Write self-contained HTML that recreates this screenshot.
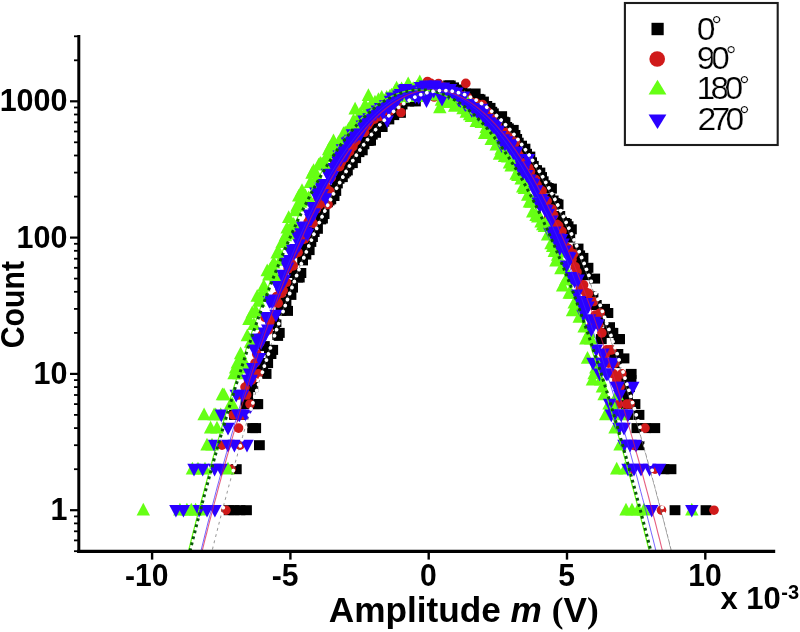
<!DOCTYPE html>
<html lang="en"><head><meta charset="utf-8"><title>Amplitude histogram</title>
<style>html,body{margin:0;padding:0;background:#fff}svg{display:block}</style></head>
<body>
<svg width="800" height="632" viewBox="0 0 800 632">
<rect width="800" height="632" fill="#fff"/>
<g fill="#000000">
<rect x="229.1" y="409.9" width="10.8" height="10"/>
<rect x="237.4" y="409.9" width="10.8" height="10"/>
<rect x="240.7" y="399.1" width="10.8" height="10"/>
<rect x="242.4" y="390.0" width="10.8" height="10"/>
<rect x="244.1" y="375.1" width="10.8" height="10"/>
<rect x="247.4" y="382.1" width="10.8" height="10"/>
<rect x="249.0" y="399.1" width="10.8" height="10"/>
<rect x="250.7" y="399.1" width="10.8" height="10"/>
<rect x="252.4" y="399.1" width="10.8" height="10"/>
<rect x="254.0" y="363.3" width="10.8" height="10"/>
<rect x="255.7" y="358.1" width="10.8" height="10"/>
<rect x="257.3" y="363.3" width="10.8" height="10"/>
<rect x="259.0" y="341.1" width="10.8" height="10"/>
<rect x="260.7" y="368.9" width="10.8" height="10"/>
<rect x="262.3" y="358.1" width="10.8" height="10"/>
<rect x="264.0" y="344.9" width="10.8" height="10"/>
<rect x="265.6" y="349.0" width="10.8" height="10"/>
<rect x="267.3" y="344.9" width="10.8" height="10"/>
<rect x="269.0" y="319.6" width="10.8" height="10"/>
<rect x="270.6" y="317.1" width="10.8" height="10"/>
<rect x="272.3" y="330.9" width="10.8" height="10"/>
<rect x="273.9" y="327.9" width="10.8" height="10"/>
<rect x="275.6" y="305.9" width="10.8" height="10"/>
<rect x="277.3" y="296.5" width="10.8" height="10"/>
<rect x="278.9" y="301.9" width="10.8" height="10"/>
<rect x="280.6" y="296.5" width="10.8" height="10"/>
<rect x="282.2" y="305.9" width="10.8" height="10"/>
<rect x="283.9" y="279.9" width="10.8" height="10"/>
<rect x="285.6" y="289.9" width="10.8" height="10"/>
<rect x="287.2" y="282.6" width="10.8" height="10"/>
<rect x="288.9" y="268.0" width="10.8" height="10"/>
<rect x="290.5" y="268.0" width="10.8" height="10"/>
<rect x="292.2" y="272.5" width="10.8" height="10"/>
<rect x="293.9" y="272.5" width="10.8" height="10"/>
<rect x="295.5" y="268.0" width="10.8" height="10"/>
<rect x="297.2" y="255.4" width="10.8" height="10"/>
<rect x="298.8" y="242.2" width="10.8" height="10"/>
<rect x="300.5" y="249.6" width="10.8" height="10"/>
<rect x="302.1" y="235.6" width="10.8" height="10"/>
<rect x="303.8" y="245.1" width="10.8" height="10"/>
<rect x="305.5" y="236.9" width="10.8" height="10"/>
<rect x="307.1" y="232.0" width="10.8" height="10"/>
<rect x="308.8" y="227.0" width="10.8" height="10"/>
<rect x="310.4" y="219.4" width="10.8" height="10"/>
<rect x="312.1" y="223.8" width="10.8" height="10"/>
<rect x="313.8" y="207.0" width="10.8" height="10"/>
<rect x="315.4" y="214.4" width="10.8" height="10"/>
<rect x="317.1" y="213.5" width="10.8" height="10"/>
<rect x="318.7" y="209.0" width="10.8" height="10"/>
<rect x="320.4" y="197.8" width="10.8" height="10"/>
<rect x="322.1" y="197.2" width="10.8" height="10"/>
<rect x="323.7" y="195.5" width="10.8" height="10"/>
<rect x="325.4" y="194.3" width="10.8" height="10"/>
<rect x="327.0" y="184.6" width="10.8" height="10"/>
<rect x="328.7" y="191.0" width="10.8" height="10"/>
<rect x="330.4" y="185.9" width="10.8" height="10"/>
<rect x="332.0" y="178.4" width="10.8" height="10"/>
<rect x="333.7" y="173.8" width="10.8" height="10"/>
<rect x="335.3" y="172.1" width="10.8" height="10"/>
<rect x="337.0" y="172.1" width="10.8" height="10"/>
<rect x="338.7" y="168.4" width="10.8" height="10"/>
<rect x="340.3" y="166.6" width="10.8" height="10"/>
<rect x="342.0" y="165.4" width="10.8" height="10"/>
<rect x="343.6" y="159.6" width="10.8" height="10"/>
<rect x="345.3" y="155.3" width="10.8" height="10"/>
<rect x="347.0" y="158.1" width="10.8" height="10"/>
<rect x="348.6" y="152.6" width="10.8" height="10"/>
<rect x="350.3" y="153.1" width="10.8" height="10"/>
<rect x="351.9" y="144.0" width="10.8" height="10"/>
<rect x="353.6" y="147.1" width="10.8" height="10"/>
<rect x="355.3" y="141.1" width="10.8" height="10"/>
<rect x="356.9" y="145.3" width="10.8" height="10"/>
<rect x="358.6" y="139.3" width="10.8" height="10"/>
<rect x="360.2" y="133.0" width="10.8" height="10"/>
<rect x="361.9" y="135.9" width="10.8" height="10"/>
<rect x="363.6" y="135.7" width="10.8" height="10"/>
<rect x="365.2" y="135.6" width="10.8" height="10"/>
<rect x="366.9" y="129.6" width="10.8" height="10"/>
<rect x="368.5" y="121.2" width="10.8" height="10"/>
<rect x="370.2" y="127.8" width="10.8" height="10"/>
<rect x="371.9" y="121.2" width="10.8" height="10"/>
<rect x="373.5" y="117.4" width="10.8" height="10"/>
<rect x="375.2" y="113.6" width="10.8" height="10"/>
<rect x="376.8" y="122.0" width="10.8" height="10"/>
<rect x="378.5" y="116.7" width="10.8" height="10"/>
<rect x="380.2" y="114.2" width="10.8" height="10"/>
<rect x="381.8" y="110.0" width="10.8" height="10"/>
<rect x="383.5" y="114.4" width="10.8" height="10"/>
<rect x="385.1" y="108.6" width="10.8" height="10"/>
<rect x="386.8" y="108.5" width="10.8" height="10"/>
<rect x="388.4" y="110.1" width="10.8" height="10"/>
<rect x="390.1" y="103.8" width="10.8" height="10"/>
<rect x="391.8" y="99.1" width="10.8" height="10"/>
<rect x="393.4" y="98.4" width="10.8" height="10"/>
<rect x="395.1" y="107.8" width="10.8" height="10"/>
<rect x="396.7" y="99.4" width="10.8" height="10"/>
<rect x="398.4" y="94.8" width="10.8" height="10"/>
<rect x="400.1" y="95.9" width="10.8" height="10"/>
<rect x="401.7" y="95.1" width="10.8" height="10"/>
<rect x="403.4" y="96.5" width="10.8" height="10"/>
<rect x="405.0" y="90.7" width="10.8" height="10"/>
<rect x="406.7" y="96.1" width="10.8" height="10"/>
<rect x="408.4" y="92.9" width="10.8" height="10"/>
<rect x="410.0" y="96.4" width="10.8" height="10"/>
<rect x="411.7" y="87.2" width="10.8" height="10"/>
<rect x="413.3" y="90.9" width="10.8" height="10"/>
<rect x="415.0" y="86.2" width="10.8" height="10"/>
<rect x="416.7" y="87.0" width="10.8" height="10"/>
<rect x="418.3" y="89.2" width="10.8" height="10"/>
<rect x="420.0" y="86.3" width="10.8" height="10"/>
<rect x="421.6" y="86.5" width="10.8" height="10"/>
<rect x="423.3" y="88.3" width="10.8" height="10"/>
<rect x="425.0" y="87.7" width="10.8" height="10"/>
<rect x="426.6" y="87.3" width="10.8" height="10"/>
<rect x="428.3" y="85.6" width="10.8" height="10"/>
<rect x="429.9" y="83.5" width="10.8" height="10"/>
<rect x="431.6" y="83.5" width="10.8" height="10"/>
<rect x="433.3" y="85.9" width="10.8" height="10"/>
<rect x="434.9" y="87.2" width="10.8" height="10"/>
<rect x="436.6" y="85.8" width="10.8" height="10"/>
<rect x="438.2" y="89.8" width="10.8" height="10"/>
<rect x="439.9" y="85.1" width="10.8" height="10"/>
<rect x="441.6" y="83.9" width="10.8" height="10"/>
<rect x="443.2" y="80.4" width="10.8" height="10"/>
<rect x="444.9" y="80.5" width="10.8" height="10"/>
<rect x="446.5" y="85.8" width="10.8" height="10"/>
<rect x="448.2" y="82.4" width="10.8" height="10"/>
<rect x="449.9" y="86.2" width="10.8" height="10"/>
<rect x="451.5" y="84.5" width="10.8" height="10"/>
<rect x="453.2" y="90.9" width="10.8" height="10"/>
<rect x="454.8" y="94.8" width="10.8" height="10"/>
<rect x="456.5" y="85.2" width="10.8" height="10"/>
<rect x="458.2" y="91.1" width="10.8" height="10"/>
<rect x="459.8" y="88.4" width="10.8" height="10"/>
<rect x="461.5" y="91.9" width="10.8" height="10"/>
<rect x="463.1" y="97.1" width="10.8" height="10"/>
<rect x="464.8" y="91.8" width="10.8" height="10"/>
<rect x="466.4" y="94.6" width="10.8" height="10"/>
<rect x="468.1" y="96.4" width="10.8" height="10"/>
<rect x="469.8" y="88.5" width="10.8" height="10"/>
<rect x="471.4" y="96.0" width="10.8" height="10"/>
<rect x="473.1" y="93.9" width="10.8" height="10"/>
<rect x="474.7" y="94.4" width="10.8" height="10"/>
<rect x="476.4" y="100.7" width="10.8" height="10"/>
<rect x="478.1" y="96.6" width="10.8" height="10"/>
<rect x="479.7" y="104.1" width="10.8" height="10"/>
<rect x="481.4" y="101.0" width="10.8" height="10"/>
<rect x="483.0" y="107.3" width="10.8" height="10"/>
<rect x="484.7" y="102.9" width="10.8" height="10"/>
<rect x="486.4" y="106.8" width="10.8" height="10"/>
<rect x="488.0" y="108.4" width="10.8" height="10"/>
<rect x="489.7" y="112.5" width="10.8" height="10"/>
<rect x="491.3" y="115.9" width="10.8" height="10"/>
<rect x="493.0" y="118.0" width="10.8" height="10"/>
<rect x="494.7" y="114.0" width="10.8" height="10"/>
<rect x="496.3" y="111.2" width="10.8" height="10"/>
<rect x="498.0" y="116.7" width="10.8" height="10"/>
<rect x="499.6" y="117.2" width="10.8" height="10"/>
<rect x="501.3" y="122.0" width="10.8" height="10"/>
<rect x="503.0" y="123.4" width="10.8" height="10"/>
<rect x="504.6" y="126.8" width="10.8" height="10"/>
<rect x="506.3" y="129.0" width="10.8" height="10"/>
<rect x="507.9" y="124.9" width="10.8" height="10"/>
<rect x="509.6" y="130.0" width="10.8" height="10"/>
<rect x="511.3" y="134.0" width="10.8" height="10"/>
<rect x="512.9" y="137.7" width="10.8" height="10"/>
<rect x="514.6" y="141.5" width="10.8" height="10"/>
<rect x="516.2" y="140.7" width="10.8" height="10"/>
<rect x="517.9" y="150.1" width="10.8" height="10"/>
<rect x="519.6" y="143.7" width="10.8" height="10"/>
<rect x="521.2" y="148.8" width="10.8" height="10"/>
<rect x="522.9" y="153.7" width="10.8" height="10"/>
<rect x="524.5" y="151.6" width="10.8" height="10"/>
<rect x="526.2" y="157.3" width="10.8" height="10"/>
<rect x="527.9" y="160.9" width="10.8" height="10"/>
<rect x="529.5" y="165.1" width="10.8" height="10"/>
<rect x="531.2" y="165.2" width="10.8" height="10"/>
<rect x="532.8" y="168.2" width="10.8" height="10"/>
<rect x="534.5" y="167.6" width="10.8" height="10"/>
<rect x="536.2" y="172.1" width="10.8" height="10"/>
<rect x="537.8" y="176.3" width="10.8" height="10"/>
<rect x="539.5" y="180.3" width="10.8" height="10"/>
<rect x="541.1" y="182.3" width="10.8" height="10"/>
<rect x="542.8" y="183.0" width="10.8" height="10"/>
<rect x="544.5" y="194.0" width="10.8" height="10"/>
<rect x="546.1" y="183.6" width="10.8" height="10"/>
<rect x="547.8" y="195.5" width="10.8" height="10"/>
<rect x="549.4" y="198.1" width="10.8" height="10"/>
<rect x="551.1" y="198.8" width="10.8" height="10"/>
<rect x="552.7" y="199.5" width="10.8" height="10"/>
<rect x="554.4" y="211.0" width="10.8" height="10"/>
<rect x="556.1" y="216.6" width="10.8" height="10"/>
<rect x="557.7" y="220.8" width="10.8" height="10"/>
<rect x="559.4" y="218.0" width="10.8" height="10"/>
<rect x="561.0" y="218.9" width="10.8" height="10"/>
<rect x="562.7" y="221.3" width="10.8" height="10"/>
<rect x="564.4" y="232.6" width="10.8" height="10"/>
<rect x="566.0" y="224.3" width="10.8" height="10"/>
<rect x="567.7" y="246.6" width="10.8" height="10"/>
<rect x="569.3" y="251.2" width="10.8" height="10"/>
<rect x="571.0" y="249.6" width="10.8" height="10"/>
<rect x="572.7" y="243.6" width="10.8" height="10"/>
<rect x="574.3" y="250.4" width="10.8" height="10"/>
<rect x="576.0" y="259.0" width="10.8" height="10"/>
<rect x="577.6" y="252.9" width="10.8" height="10"/>
<rect x="579.3" y="265.9" width="10.8" height="10"/>
<rect x="581.0" y="270.2" width="10.8" height="10"/>
<rect x="582.6" y="262.8" width="10.8" height="10"/>
<rect x="584.3" y="291.5" width="10.8" height="10"/>
<rect x="585.9" y="291.5" width="10.8" height="10"/>
<rect x="587.6" y="293.1" width="10.8" height="10"/>
<rect x="589.3" y="273.6" width="10.8" height="10"/>
<rect x="590.9" y="300.0" width="10.8" height="10"/>
<rect x="592.6" y="317.1" width="10.8" height="10"/>
<rect x="594.2" y="314.7" width="10.8" height="10"/>
<rect x="595.9" y="334.1" width="10.8" height="10"/>
<rect x="597.6" y="308.0" width="10.8" height="10"/>
<rect x="599.2" y="303.9" width="10.8" height="10"/>
<rect x="600.9" y="327.9" width="10.8" height="10"/>
<rect x="602.5" y="308.0" width="10.8" height="10"/>
<rect x="604.2" y="322.2" width="10.8" height="10"/>
<rect x="605.9" y="327.9" width="10.8" height="10"/>
<rect x="607.5" y="327.9" width="10.8" height="10"/>
<rect x="609.2" y="353.4" width="10.8" height="10"/>
<rect x="610.8" y="358.1" width="10.8" height="10"/>
<rect x="612.5" y="349.0" width="10.8" height="10"/>
<rect x="614.2" y="334.1" width="10.8" height="10"/>
<rect x="615.8" y="375.1" width="10.8" height="10"/>
<rect x="617.5" y="382.1" width="10.8" height="10"/>
<rect x="619.1" y="375.1" width="10.8" height="10"/>
<rect x="620.8" y="399.1" width="10.8" height="10"/>
<rect x="622.5" y="409.9" width="10.8" height="10"/>
<rect x="624.1" y="382.1" width="10.8" height="10"/>
<rect x="625.8" y="368.9" width="10.8" height="10"/>
<rect x="613.6" y="334.1" width="10.8" height="10"/>
<rect x="618.6" y="353.4" width="10.8" height="10"/>
<rect x="625.6" y="375.1" width="10.8" height="10"/>
<rect x="622.1" y="390.0" width="10.8" height="10"/>
<rect x="629.6" y="399.1" width="10.8" height="10"/>
<rect x="633.6" y="409.9" width="10.8" height="10"/>
<rect x="223.6" y="505.2" width="10.8" height="10"/>
<rect x="228.6" y="505.2" width="10.8" height="10"/>
<rect x="234.6" y="505.2" width="10.8" height="10"/>
<rect x="241.1" y="505.2" width="10.8" height="10"/>
<rect x="669.6" y="505.2" width="10.8" height="10"/>
<rect x="700.6" y="505.2" width="10.8" height="10"/>
<rect x="230.9" y="464.2" width="10.8" height="10"/>
<rect x="665.6" y="464.2" width="10.8" height="10"/>
<rect x="658.6" y="464.2" width="10.8" height="10"/>
<rect x="254.0" y="440.2" width="10.8" height="10"/>
<rect x="633.6" y="440.2" width="10.8" height="10"/>
<rect x="247.2" y="423.1" width="10.8" height="10"/>
<rect x="250.3" y="423.1" width="10.8" height="10"/>
<rect x="631.5" y="423.1" width="10.8" height="10"/>
<rect x="640.1" y="423.1" width="10.8" height="10"/>
<rect x="649.4" y="423.1" width="10.8" height="10"/>
</g>
<g fill="#d01a1a">
<circle cx="233.4" cy="414.9" r="4.8"/>
<circle cx="238.4" cy="395.0" r="4.8"/>
<circle cx="241.7" cy="414.9" r="4.8"/>
<circle cx="243.4" cy="414.9" r="4.8"/>
<circle cx="245.0" cy="387.1" r="4.8"/>
<circle cx="246.7" cy="395.0" r="4.8"/>
<circle cx="248.4" cy="380.1" r="4.8"/>
<circle cx="250.0" cy="404.1" r="4.8"/>
<circle cx="251.7" cy="380.1" r="4.8"/>
<circle cx="253.3" cy="373.9" r="4.8"/>
<circle cx="255.0" cy="363.1" r="4.8"/>
<circle cx="256.7" cy="354.0" r="4.8"/>
<circle cx="258.3" cy="373.9" r="4.8"/>
<circle cx="260.0" cy="342.5" r="4.8"/>
<circle cx="261.6" cy="335.9" r="4.8"/>
<circle cx="263.3" cy="332.9" r="4.8"/>
<circle cx="265.0" cy="317.3" r="4.8"/>
<circle cx="266.6" cy="317.3" r="4.8"/>
<circle cx="268.3" cy="330.0" r="4.8"/>
<circle cx="269.9" cy="322.1" r="4.8"/>
<circle cx="271.6" cy="317.3" r="4.8"/>
<circle cx="273.3" cy="299.7" r="4.8"/>
<circle cx="274.9" cy="299.7" r="4.8"/>
<circle cx="276.6" cy="296.5" r="4.8"/>
<circle cx="278.2" cy="303.2" r="4.8"/>
<circle cx="279.9" cy="289.0" r="4.8"/>
<circle cx="281.5" cy="293.3" r="4.8"/>
<circle cx="283.2" cy="290.4" r="4.8"/>
<circle cx="284.9" cy="282.3" r="4.8"/>
<circle cx="286.5" cy="282.3" r="4.8"/>
<circle cx="288.2" cy="268.8" r="4.8"/>
<circle cx="289.8" cy="262.2" r="4.8"/>
<circle cx="291.5" cy="264.0" r="4.8"/>
<circle cx="293.2" cy="265.9" r="4.8"/>
<circle cx="294.8" cy="253.8" r="4.8"/>
<circle cx="296.5" cy="235.9" r="4.8"/>
<circle cx="298.1" cy="252.3" r="4.8"/>
<circle cx="299.8" cy="239.4" r="4.8"/>
<circle cx="301.5" cy="239.4" r="4.8"/>
<circle cx="303.1" cy="239.4" r="4.8"/>
<circle cx="304.8" cy="238.8" r="4.8"/>
<circle cx="306.4" cy="234.2" r="4.8"/>
<circle cx="308.1" cy="222.1" r="4.8"/>
<circle cx="309.8" cy="219.0" r="4.8"/>
<circle cx="311.4" cy="217.7" r="4.8"/>
<circle cx="313.1" cy="223.5" r="4.8"/>
<circle cx="314.7" cy="208.0" r="4.8"/>
<circle cx="316.4" cy="209.0" r="4.8"/>
<circle cx="318.1" cy="198.4" r="4.8"/>
<circle cx="319.7" cy="204.5" r="4.8"/>
<circle cx="321.4" cy="198.1" r="4.8"/>
<circle cx="323.0" cy="201.2" r="4.8"/>
<circle cx="324.7" cy="184.3" r="4.8"/>
<circle cx="326.4" cy="188.3" r="4.8"/>
<circle cx="328.0" cy="204.5" r="4.8"/>
<circle cx="329.7" cy="191.2" r="4.8"/>
<circle cx="331.3" cy="177.5" r="4.8"/>
<circle cx="333.0" cy="172.4" r="4.8"/>
<circle cx="334.7" cy="163.3" r="4.8"/>
<circle cx="336.3" cy="166.0" r="4.8"/>
<circle cx="338.0" cy="163.3" r="4.8"/>
<circle cx="339.6" cy="166.7" r="4.8"/>
<circle cx="341.3" cy="162.3" r="4.8"/>
<circle cx="343.0" cy="157.8" r="4.8"/>
<circle cx="344.6" cy="158.0" r="4.8"/>
<circle cx="346.3" cy="155.4" r="4.8"/>
<circle cx="347.9" cy="151.7" r="4.8"/>
<circle cx="349.6" cy="151.7" r="4.8"/>
<circle cx="351.3" cy="147.5" r="4.8"/>
<circle cx="352.9" cy="146.5" r="4.8"/>
<circle cx="354.6" cy="142.0" r="4.8"/>
<circle cx="356.2" cy="140.7" r="4.8"/>
<circle cx="357.9" cy="133.3" r="4.8"/>
<circle cx="359.6" cy="130.6" r="4.8"/>
<circle cx="361.2" cy="132.5" r="4.8"/>
<circle cx="362.9" cy="126.6" r="4.8"/>
<circle cx="364.5" cy="132.3" r="4.8"/>
<circle cx="366.2" cy="126.3" r="4.8"/>
<circle cx="367.8" cy="125.4" r="4.8"/>
<circle cx="369.5" cy="122.7" r="4.8"/>
<circle cx="371.2" cy="119.8" r="4.8"/>
<circle cx="372.8" cy="119.0" r="4.8"/>
<circle cx="374.5" cy="119.0" r="4.8"/>
<circle cx="376.1" cy="115.6" r="4.8"/>
<circle cx="377.8" cy="114.2" r="4.8"/>
<circle cx="379.5" cy="116.5" r="4.8"/>
<circle cx="381.1" cy="114.1" r="4.8"/>
<circle cx="382.8" cy="111.5" r="4.8"/>
<circle cx="384.4" cy="106.6" r="4.8"/>
<circle cx="386.1" cy="106.4" r="4.8"/>
<circle cx="387.8" cy="105.2" r="4.8"/>
<circle cx="389.4" cy="111.4" r="4.8"/>
<circle cx="391.1" cy="106.1" r="4.8"/>
<circle cx="392.7" cy="98.3" r="4.8"/>
<circle cx="394.4" cy="103.3" r="4.8"/>
<circle cx="396.1" cy="98.9" r="4.8"/>
<circle cx="397.7" cy="102.8" r="4.8"/>
<circle cx="399.4" cy="97.1" r="4.8"/>
<circle cx="401.0" cy="98.0" r="4.8"/>
<circle cx="402.7" cy="96.5" r="4.8"/>
<circle cx="404.4" cy="96.8" r="4.8"/>
<circle cx="406.0" cy="98.1" r="4.8"/>
<circle cx="407.7" cy="98.2" r="4.8"/>
<circle cx="409.3" cy="94.1" r="4.8"/>
<circle cx="411.0" cy="88.9" r="4.8"/>
<circle cx="412.7" cy="91.6" r="4.8"/>
<circle cx="414.3" cy="89.4" r="4.8"/>
<circle cx="416.0" cy="92.2" r="4.8"/>
<circle cx="417.6" cy="94.7" r="4.8"/>
<circle cx="419.3" cy="95.2" r="4.8"/>
<circle cx="421.0" cy="90.6" r="4.8"/>
<circle cx="422.6" cy="92.9" r="4.8"/>
<circle cx="424.3" cy="92.4" r="4.8"/>
<circle cx="425.9" cy="89.0" r="4.8"/>
<circle cx="427.6" cy="87.4" r="4.8"/>
<circle cx="429.3" cy="89.6" r="4.8"/>
<circle cx="430.9" cy="83.4" r="4.8"/>
<circle cx="432.6" cy="92.6" r="4.8"/>
<circle cx="434.2" cy="97.0" r="4.8"/>
<circle cx="435.9" cy="88.9" r="4.8"/>
<circle cx="437.6" cy="89.3" r="4.8"/>
<circle cx="439.2" cy="93.4" r="4.8"/>
<circle cx="440.9" cy="91.0" r="4.8"/>
<circle cx="442.5" cy="93.0" r="4.8"/>
<circle cx="444.2" cy="87.2" r="4.8"/>
<circle cx="445.8" cy="92.1" r="4.8"/>
<circle cx="447.5" cy="94.9" r="4.8"/>
<circle cx="449.2" cy="92.6" r="4.8"/>
<circle cx="450.8" cy="96.7" r="4.8"/>
<circle cx="452.5" cy="91.3" r="4.8"/>
<circle cx="454.1" cy="95.7" r="4.8"/>
<circle cx="455.8" cy="95.0" r="4.8"/>
<circle cx="457.5" cy="100.0" r="4.8"/>
<circle cx="459.1" cy="96.0" r="4.8"/>
<circle cx="460.8" cy="95.2" r="4.8"/>
<circle cx="462.4" cy="97.0" r="4.8"/>
<circle cx="464.1" cy="99.8" r="4.8"/>
<circle cx="465.8" cy="83.4" r="4.8"/>
<circle cx="467.4" cy="97.1" r="4.8"/>
<circle cx="469.1" cy="102.0" r="4.8"/>
<circle cx="470.7" cy="101.8" r="4.8"/>
<circle cx="472.4" cy="103.2" r="4.8"/>
<circle cx="474.1" cy="106.8" r="4.8"/>
<circle cx="475.7" cy="102.9" r="4.8"/>
<circle cx="477.4" cy="106.9" r="4.8"/>
<circle cx="479.0" cy="108.4" r="4.8"/>
<circle cx="480.7" cy="111.8" r="4.8"/>
<circle cx="482.4" cy="104.5" r="4.8"/>
<circle cx="484.0" cy="115.0" r="4.8"/>
<circle cx="485.7" cy="111.6" r="4.8"/>
<circle cx="487.3" cy="111.6" r="4.8"/>
<circle cx="489.0" cy="116.8" r="4.8"/>
<circle cx="490.7" cy="118.6" r="4.8"/>
<circle cx="492.3" cy="118.5" r="4.8"/>
<circle cx="494.0" cy="127.0" r="4.8"/>
<circle cx="495.6" cy="133.1" r="4.8"/>
<circle cx="497.3" cy="124.8" r="4.8"/>
<circle cx="499.0" cy="132.4" r="4.8"/>
<circle cx="500.6" cy="130.9" r="4.8"/>
<circle cx="502.3" cy="138.0" r="4.8"/>
<circle cx="503.9" cy="137.1" r="4.8"/>
<circle cx="505.6" cy="132.6" r="4.8"/>
<circle cx="507.3" cy="141.0" r="4.8"/>
<circle cx="508.9" cy="143.0" r="4.8"/>
<circle cx="510.6" cy="137.7" r="4.8"/>
<circle cx="512.2" cy="150.0" r="4.8"/>
<circle cx="513.9" cy="145.0" r="4.8"/>
<circle cx="515.6" cy="142.1" r="4.8"/>
<circle cx="517.2" cy="151.5" r="4.8"/>
<circle cx="518.9" cy="155.2" r="4.8"/>
<circle cx="520.5" cy="166.6" r="4.8"/>
<circle cx="522.2" cy="163.6" r="4.8"/>
<circle cx="523.9" cy="162.8" r="4.8"/>
<circle cx="525.5" cy="167.1" r="4.8"/>
<circle cx="527.2" cy="166.6" r="4.8"/>
<circle cx="528.8" cy="168.0" r="4.8"/>
<circle cx="530.5" cy="171.6" r="4.8"/>
<circle cx="532.1" cy="185.8" r="4.8"/>
<circle cx="533.8" cy="179.2" r="4.8"/>
<circle cx="535.5" cy="179.5" r="4.8"/>
<circle cx="537.1" cy="184.8" r="4.8"/>
<circle cx="538.8" cy="192.0" r="4.8"/>
<circle cx="540.4" cy="194.0" r="4.8"/>
<circle cx="542.1" cy="190.9" r="4.8"/>
<circle cx="543.8" cy="201.5" r="4.8"/>
<circle cx="545.4" cy="200.2" r="4.8"/>
<circle cx="547.1" cy="201.2" r="4.8"/>
<circle cx="548.7" cy="217.7" r="4.8"/>
<circle cx="550.4" cy="213.6" r="4.8"/>
<circle cx="552.1" cy="209.0" r="4.8"/>
<circle cx="553.7" cy="215.2" r="4.8"/>
<circle cx="555.4" cy="227.3" r="4.8"/>
<circle cx="557.0" cy="224.4" r="4.8"/>
<circle cx="558.7" cy="225.8" r="4.8"/>
<circle cx="560.4" cy="233.6" r="4.8"/>
<circle cx="562.0" cy="231.4" r="4.8"/>
<circle cx="563.7" cy="246.5" r="4.8"/>
<circle cx="565.3" cy="246.5" r="4.8"/>
<circle cx="567.0" cy="247.9" r="4.8"/>
<circle cx="568.7" cy="248.6" r="4.8"/>
<circle cx="570.3" cy="255.4" r="4.8"/>
<circle cx="572.0" cy="259.6" r="4.8"/>
<circle cx="573.6" cy="253.8" r="4.8"/>
<circle cx="575.3" cy="266.9" r="4.8"/>
<circle cx="577.0" cy="271.9" r="4.8"/>
<circle cx="578.6" cy="282.3" r="4.8"/>
<circle cx="580.3" cy="289.0" r="4.8"/>
<circle cx="581.9" cy="286.2" r="4.8"/>
<circle cx="583.6" cy="284.9" r="4.8"/>
<circle cx="585.3" cy="291.8" r="4.8"/>
<circle cx="586.9" cy="303.2" r="4.8"/>
<circle cx="588.6" cy="293.3" r="4.8"/>
<circle cx="590.2" cy="301.5" r="4.8"/>
<circle cx="591.9" cy="324.6" r="4.8"/>
<circle cx="593.6" cy="301.5" r="4.8"/>
<circle cx="595.2" cy="315.1" r="4.8"/>
<circle cx="596.9" cy="322.1" r="4.8"/>
<circle cx="598.5" cy="324.6" r="4.8"/>
<circle cx="600.2" cy="313.0" r="4.8"/>
<circle cx="601.9" cy="332.9" r="4.8"/>
<circle cx="603.5" cy="354.0" r="4.8"/>
<circle cx="605.2" cy="354.0" r="4.8"/>
<circle cx="606.8" cy="349.9" r="4.8"/>
<circle cx="608.5" cy="363.1" r="4.8"/>
<circle cx="610.1" cy="349.9" r="4.8"/>
<circle cx="611.8" cy="349.9" r="4.8"/>
<circle cx="613.5" cy="373.9" r="4.8"/>
<circle cx="615.1" cy="363.1" r="4.8"/>
<circle cx="616.8" cy="380.1" r="4.8"/>
<circle cx="618.4" cy="404.1" r="4.8"/>
<circle cx="620.1" cy="387.1" r="4.8"/>
<circle cx="621.8" cy="373.9" r="4.8"/>
<circle cx="626.7" cy="404.1" r="4.8"/>
<circle cx="630.1" cy="404.1" r="4.8"/>
<circle cx="401.0" cy="112.5" r="4.8"/>
<circle cx="427.5" cy="81.5" r="4.8"/>
<circle cx="438.5" cy="83.5" r="4.8"/>
<circle cx="225.9" cy="510.2" r="4.8"/>
<circle cx="661.5" cy="510.2" r="4.8"/>
<circle cx="714.0" cy="510.2" r="4.8"/>
<circle cx="231.0" cy="469.2" r="4.8"/>
<circle cx="631.0" cy="469.2" r="4.8"/>
<circle cx="655.0" cy="469.2" r="4.8"/>
<circle cx="222.0" cy="445.2" r="4.8"/>
<circle cx="240.0" cy="445.2" r="4.8"/>
<circle cx="633.0" cy="445.2" r="4.8"/>
<circle cx="238.6" cy="428.1" r="4.8"/>
<circle cx="645.0" cy="428.1" r="4.8"/>
</g>
<g fill="#66ff14">
<path d="M197.4 420.3L210.8 420.3L204.1 407.6Z"/>
<path d="M207.4 420.3L220.8 420.3L214.1 407.6Z"/>
<path d="M209.0 420.3L222.4 420.3L215.7 407.6Z"/>
<path d="M214.0 420.3L227.4 420.3L220.7 407.6Z"/>
<path d="M215.7 400.3L229.1 400.3L222.4 387.6Z"/>
<path d="M217.3 400.3L230.7 400.3L224.0 387.6Z"/>
<path d="M224.0 409.5L237.4 409.5L230.7 396.8Z"/>
<path d="M225.6 409.5L239.0 409.5L232.3 396.8Z"/>
<path d="M227.3 379.2L240.7 379.2L234.0 366.5Z"/>
<path d="M228.9 373.6L242.3 373.6L235.6 360.9Z"/>
<path d="M230.6 368.4L244.0 368.4L237.3 355.7Z"/>
<path d="M232.3 379.2L245.7 379.2L239.0 366.5Z"/>
<path d="M233.9 359.3L247.3 359.3L240.6 346.6Z"/>
<path d="M235.6 363.7L249.0 363.7L242.3 351.0Z"/>
<path d="M237.2 368.4L250.6 368.4L243.9 355.7Z"/>
<path d="M238.9 373.6L252.3 373.6L245.6 360.9Z"/>
<path d="M240.6 341.2L254.0 341.2L247.3 328.5Z"/>
<path d="M242.2 325.0L255.6 325.0L248.9 312.3Z"/>
<path d="M243.9 347.8L257.3 347.8L250.6 335.1Z"/>
<path d="M245.5 318.3L258.9 318.3L252.2 305.6Z"/>
<path d="M247.2 329.9L260.6 329.9L253.9 317.2Z"/>
<path d="M248.8 316.2L262.2 316.2L255.5 303.5Z"/>
<path d="M250.5 301.8L263.9 301.8L257.2 289.1Z"/>
<path d="M252.2 306.8L265.6 306.8L258.9 294.1Z"/>
<path d="M253.8 301.8L267.2 301.8L260.5 289.1Z"/>
<path d="M255.5 301.8L268.9 301.8L262.2 289.1Z"/>
<path d="M257.1 291.5L270.5 291.5L263.8 278.8Z"/>
<path d="M258.8 300.2L272.2 300.2L265.5 287.5Z"/>
<path d="M260.5 276.2L273.9 276.2L267.2 263.5Z"/>
<path d="M262.1 280.5L275.5 280.5L268.8 267.8Z"/>
<path d="M263.8 274.2L277.2 274.2L270.5 261.5Z"/>
<path d="M265.4 272.2L278.8 272.2L272.1 259.5Z"/>
<path d="M267.1 268.4L280.5 268.4L273.8 255.7Z"/>
<path d="M268.8 281.6L282.2 281.6L275.5 268.9Z"/>
<path d="M270.4 258.4L283.8 258.4L277.1 245.7Z"/>
<path d="M272.1 257.6L285.5 257.6L278.8 244.9Z"/>
<path d="M273.7 265.8L287.1 265.8L280.4 253.1Z"/>
<path d="M275.4 247.9L288.8 247.9L282.1 235.2Z"/>
<path d="M277.1 246.0L290.5 246.0L283.8 233.3Z"/>
<path d="M278.7 241.2L292.1 241.2L285.4 228.5Z"/>
<path d="M280.4 233.6L293.8 233.6L287.1 220.9Z"/>
<path d="M282.0 223.0L295.4 223.0L288.7 210.3Z"/>
<path d="M283.7 239.5L297.1 239.5L290.4 226.8Z"/>
<path d="M285.4 230.7L298.8 230.7L292.1 218.0Z"/>
<path d="M287.0 229.7L300.4 229.7L293.7 217.0Z"/>
<path d="M288.7 216.2L302.1 216.2L295.4 203.5Z"/>
<path d="M290.3 211.5L303.7 211.5L297.0 198.8Z"/>
<path d="M292.0 201.6L305.4 201.6L298.7 188.9Z"/>
<path d="M293.7 207.8L307.1 207.8L300.4 195.1Z"/>
<path d="M295.3 196.0L308.7 196.0L302.0 183.3Z"/>
<path d="M297.0 205.9L310.4 205.9L303.7 193.2Z"/>
<path d="M298.6 201.0L312.0 201.0L305.3 188.3Z"/>
<path d="M300.3 206.2L313.7 206.2L307.0 193.5Z"/>
<path d="M302.0 203.1L315.4 203.1L308.7 190.4Z"/>
<path d="M303.6 188.0L317.0 188.0L310.3 175.3Z"/>
<path d="M305.3 178.7L318.7 178.7L312.0 166.0Z"/>
<path d="M306.9 176.0L320.3 176.0L313.6 163.3Z"/>
<path d="M308.6 177.7L322.0 177.7L315.3 165.0Z"/>
<path d="M310.3 182.2L323.7 182.2L317.0 169.5Z"/>
<path d="M311.9 170.5L325.3 170.5L318.6 157.8Z"/>
<path d="M313.6 168.8L327.0 168.8L320.3 156.1Z"/>
<path d="M315.2 169.5L328.6 169.5L321.9 156.8Z"/>
<path d="M316.9 167.8L330.3 167.8L323.6 155.1Z"/>
<path d="M318.6 169.6L332.0 169.6L325.3 156.9Z"/>
<path d="M320.2 161.9L333.6 161.9L326.9 149.2Z"/>
<path d="M321.9 155.2L335.3 155.2L328.6 142.5Z"/>
<path d="M323.5 152.6L336.9 152.6L330.2 139.9Z"/>
<path d="M325.2 158.3L338.6 158.3L331.9 145.6Z"/>
<path d="M326.8 146.3L340.2 146.3L333.5 133.6Z"/>
<path d="M328.5 155.9L341.9 155.9L335.2 143.2Z"/>
<path d="M330.2 152.3L343.6 152.3L336.9 139.6Z"/>
<path d="M331.8 147.9L345.2 147.9L338.5 135.2Z"/>
<path d="M333.5 149.0L346.9 149.0L340.2 136.3Z"/>
<path d="M335.1 145.3L348.5 145.3L341.8 132.6Z"/>
<path d="M336.8 139.0L350.2 139.0L343.5 126.3Z"/>
<path d="M338.5 138.1L351.9 138.1L345.2 125.4Z"/>
<path d="M340.1 142.7L353.5 142.7L346.8 130.0Z"/>
<path d="M341.8 134.7L355.2 134.7L348.5 122.0Z"/>
<path d="M343.4 134.2L356.8 134.2L350.1 121.5Z"/>
<path d="M345.1 134.0L358.5 134.0L351.8 121.3Z"/>
<path d="M346.8 125.9L360.2 125.9L353.5 113.2Z"/>
<path d="M348.4 114.4L361.8 114.4L355.1 101.7Z"/>
<path d="M350.1 133.1L363.5 133.1L356.8 120.4Z"/>
<path d="M351.7 123.5L365.1 123.5L358.4 110.8Z"/>
<path d="M353.4 119.4L366.8 119.4L360.1 106.7Z"/>
<path d="M355.1 123.2L368.5 123.2L361.8 110.5Z"/>
<path d="M356.7 122.6L370.1 122.6L363.4 109.9Z"/>
<path d="M358.4 110.5L371.8 110.5L365.1 97.8Z"/>
<path d="M360.0 115.3L373.4 115.3L366.7 102.6Z"/>
<path d="M361.7 101.0L375.1 101.0L368.4 88.3Z"/>
<path d="M363.4 112.5L376.8 112.5L370.1 99.8Z"/>
<path d="M365.0 109.1L378.4 109.1L371.7 96.4Z"/>
<path d="M366.7 114.6L380.1 114.6L373.4 101.9Z"/>
<path d="M368.3 107.5L381.7 107.5L375.0 94.8Z"/>
<path d="M370.0 112.7L383.4 112.7L376.7 100.0Z"/>
<path d="M371.7 104.9L385.1 104.9L378.4 92.2Z"/>
<path d="M373.3 111.2L386.7 111.2L380.0 98.5Z"/>
<path d="M375.0 102.6L388.4 102.6L381.7 89.9Z"/>
<path d="M376.6 108.1L390.0 108.1L383.3 95.4Z"/>
<path d="M378.3 106.2L391.7 106.2L385.0 93.5Z"/>
<path d="M380.0 102.7L393.4 102.7L386.7 90.0Z"/>
<path d="M381.6 104.1L395.0 104.1L388.3 91.4Z"/>
<path d="M383.3 101.5L396.7 101.5L390.0 88.8Z"/>
<path d="M384.9 100.5L398.3 100.5L391.6 87.8Z"/>
<path d="M386.6 107.6L400.0 107.6L393.3 94.9Z"/>
<path d="M388.3 96.7L401.7 96.7L395.0 84.0Z"/>
<path d="M389.9 93.5L403.3 93.5L396.6 80.8Z"/>
<path d="M391.6 96.1L405.0 96.1L398.3 83.4Z"/>
<path d="M393.2 99.1L406.6 99.1L399.9 86.4Z"/>
<path d="M394.9 94.1L408.3 94.1L401.6 81.4Z"/>
<path d="M396.6 102.9L410.0 102.9L403.3 90.2Z"/>
<path d="M398.2 97.9L411.6 97.9L404.9 85.2Z"/>
<path d="M399.9 97.6L413.3 97.6L406.6 84.9Z"/>
<path d="M401.5 89.1L414.9 89.1L408.2 76.4Z"/>
<path d="M403.2 96.5L416.6 96.5L409.9 83.8Z"/>
<path d="M404.9 102.0L418.3 102.0L411.6 89.3Z"/>
<path d="M406.5 94.0L419.9 94.0L413.2 81.3Z"/>
<path d="M408.2 97.5L421.6 97.5L414.9 84.8Z"/>
<path d="M409.8 92.8L423.2 92.8L416.5 80.1Z"/>
<path d="M411.5 90.9L424.9 90.9L418.2 78.2Z"/>
<path d="M413.1 87.3L426.5 87.3L419.8 74.6Z"/>
<path d="M414.8 102.1L428.2 102.1L421.5 89.4Z"/>
<path d="M416.5 97.6L429.9 97.6L423.2 84.9Z"/>
<path d="M418.1 93.2L431.5 93.2L424.8 80.5Z"/>
<path d="M419.8 93.0L433.2 93.0L426.5 80.3Z"/>
<path d="M421.4 98.6L434.8 98.6L428.1 85.9Z"/>
<path d="M423.1 95.8L436.5 95.8L429.8 83.1Z"/>
<path d="M424.8 95.6L438.2 95.6L431.5 82.9Z"/>
<path d="M426.4 94.8L439.8 94.8L433.1 82.1Z"/>
<path d="M428.1 100.1L441.5 100.1L434.8 87.4Z"/>
<path d="M429.7 95.6L443.1 95.6L436.4 82.9Z"/>
<path d="M431.4 100.6L444.8 100.6L438.1 87.9Z"/>
<path d="M433.1 113.3L446.5 113.3L439.8 100.6Z"/>
<path d="M434.7 105.7L448.1 105.7L441.4 93.0Z"/>
<path d="M436.4 99.3L449.8 99.3L443.1 86.6Z"/>
<path d="M438.0 108.1L451.4 108.1L444.7 95.4Z"/>
<path d="M439.7 95.4L453.1 95.4L446.4 82.7Z"/>
<path d="M441.4 100.2L454.8 100.2L448.1 87.5Z"/>
<path d="M443.0 107.6L456.4 107.6L449.7 94.9Z"/>
<path d="M444.7 106.3L458.1 106.3L451.4 93.6Z"/>
<path d="M446.3 101.1L459.7 101.1L453.0 88.4Z"/>
<path d="M448.0 111.8L461.4 111.8L454.7 99.1Z"/>
<path d="M449.7 110.0L463.1 110.0L456.4 97.3Z"/>
<path d="M451.3 110.0L464.7 110.0L458.0 97.3Z"/>
<path d="M453.0 102.5L466.4 102.5L459.7 89.8Z"/>
<path d="M454.6 108.9L468.0 108.9L461.3 96.2Z"/>
<path d="M456.3 114.2L469.7 114.2L463.0 101.5Z"/>
<path d="M458.0 102.9L471.4 102.9L464.7 90.2Z"/>
<path d="M459.6 117.7L473.0 117.7L466.3 105.0Z"/>
<path d="M461.3 114.9L474.7 114.9L468.0 102.2Z"/>
<path d="M462.9 120.2L476.3 120.2L469.6 107.5Z"/>
<path d="M464.6 122.1L478.0 122.1L471.3 109.4Z"/>
<path d="M466.3 116.1L479.7 116.1L473.0 103.4Z"/>
<path d="M467.9 122.0L481.3 122.0L474.6 109.3Z"/>
<path d="M469.6 126.9L483.0 126.9L476.3 114.2Z"/>
<path d="M471.2 125.5L484.6 125.5L477.9 112.8Z"/>
<path d="M472.9 126.8L486.3 126.8L479.6 114.1Z"/>
<path d="M474.6 127.9L488.0 127.9L481.3 115.2Z"/>
<path d="M476.2 126.6L489.6 126.6L482.9 113.9Z"/>
<path d="M477.9 139.1L491.3 139.1L484.6 126.4Z"/>
<path d="M479.5 133.0L492.9 133.0L486.2 120.3Z"/>
<path d="M481.2 137.9L494.6 137.9L487.9 125.2Z"/>
<path d="M482.9 131.9L496.3 131.9L489.6 119.2Z"/>
<path d="M484.5 145.0L497.9 145.0L491.2 132.3Z"/>
<path d="M486.2 138.9L499.6 138.9L492.9 126.2Z"/>
<path d="M487.8 140.5L501.2 140.5L494.5 127.8Z"/>
<path d="M489.5 150.5L502.9 150.5L496.2 137.8Z"/>
<path d="M491.2 149.6L504.6 149.6L497.9 136.9Z"/>
<path d="M492.8 159.8L506.2 159.8L499.5 147.1Z"/>
<path d="M494.5 154.8L507.9 154.8L501.2 142.1Z"/>
<path d="M496.1 155.5L509.5 155.5L502.8 142.8Z"/>
<path d="M497.8 162.1L511.2 162.1L504.5 149.4Z"/>
<path d="M499.4 153.8L512.8 153.8L506.1 141.1Z"/>
<path d="M501.1 162.4L514.5 162.4L507.8 149.7Z"/>
<path d="M502.8 168.4L516.2 168.4L509.5 155.7Z"/>
<path d="M504.4 171.5L517.8 171.5L511.1 158.8Z"/>
<path d="M506.1 170.7L519.5 170.7L512.8 158.0Z"/>
<path d="M507.7 170.7L521.1 170.7L514.4 158.0Z"/>
<path d="M509.4 179.7L522.8 179.7L516.1 167.0Z"/>
<path d="M511.1 181.1L524.5 181.1L517.8 168.4Z"/>
<path d="M512.7 173.5L526.1 173.5L519.4 160.8Z"/>
<path d="M514.4 184.6L527.8 184.6L521.1 171.9Z"/>
<path d="M516.0 192.4L529.4 192.4L522.7 179.7Z"/>
<path d="M517.7 193.9L531.1 193.9L524.4 181.2Z"/>
<path d="M519.4 190.4L532.8 190.4L526.1 177.7Z"/>
<path d="M521.0 200.7L534.4 200.7L527.7 188.0Z"/>
<path d="M522.7 207.5L536.1 207.5L529.4 194.8Z"/>
<path d="M524.3 207.8L537.7 207.8L531.0 195.1Z"/>
<path d="M526.0 217.4L539.4 217.4L532.7 204.7Z"/>
<path d="M527.7 204.3L541.1 204.3L534.4 191.6Z"/>
<path d="M529.3 220.9L542.7 220.9L536.0 208.2Z"/>
<path d="M531.0 222.6L544.4 222.6L537.7 209.9Z"/>
<path d="M532.6 221.8L546.0 221.8L539.3 209.1Z"/>
<path d="M534.3 227.4L547.7 227.4L541.0 214.7Z"/>
<path d="M536.0 230.2L549.4 230.2L542.7 217.5Z"/>
<path d="M537.6 232.1L551.0 232.1L544.3 219.4Z"/>
<path d="M539.3 228.3L552.7 228.3L546.0 215.6Z"/>
<path d="M540.9 240.6L554.3 240.6L547.6 227.9Z"/>
<path d="M542.6 238.4L556.0 238.4L549.3 225.7Z"/>
<path d="M544.3 249.2L557.7 249.2L551.0 236.5Z"/>
<path d="M545.9 251.9L559.3 251.9L552.6 239.2Z"/>
<path d="M547.6 256.9L561.0 256.9L554.3 244.2Z"/>
<path d="M549.2 266.6L562.6 266.6L555.9 253.9Z"/>
<path d="M550.9 260.8L564.3 260.8L557.6 248.1Z"/>
<path d="M552.6 257.6L566.0 257.6L559.3 244.9Z"/>
<path d="M554.2 274.2L567.6 274.2L560.9 261.5Z"/>
<path d="M555.9 291.5L569.3 291.5L562.6 278.8Z"/>
<path d="M557.5 272.2L570.9 272.2L564.2 259.5Z"/>
<path d="M559.2 285.2L572.6 285.2L565.9 272.5Z"/>
<path d="M560.9 285.2L574.3 285.2L567.6 272.5Z"/>
<path d="M562.5 298.7L575.9 298.7L569.2 286.0Z"/>
<path d="M564.2 298.7L577.6 298.7L570.9 286.0Z"/>
<path d="M565.8 316.2L579.2 316.2L572.5 303.5Z"/>
<path d="M567.5 308.6L580.9 308.6L574.2 295.9Z"/>
<path d="M569.2 312.3L582.6 312.3L575.9 299.6Z"/>
<path d="M570.8 314.2L584.2 314.2L577.5 301.5Z"/>
<path d="M572.5 322.7L585.9 322.7L579.2 310.0Z"/>
<path d="M574.1 314.2L587.5 314.2L580.8 301.5Z"/>
<path d="M575.8 320.4L589.2 320.4L582.5 307.7Z"/>
<path d="M577.4 332.6L590.8 332.6L584.1 319.9Z"/>
<path d="M579.1 344.4L592.5 344.4L585.8 331.7Z"/>
<path d="M580.8 363.7L594.2 363.7L587.5 351.0Z"/>
<path d="M582.4 338.2L595.8 338.2L589.1 325.5Z"/>
<path d="M584.1 344.4L597.5 344.4L590.8 331.7Z"/>
<path d="M585.7 385.5L599.1 385.5L592.4 372.8Z"/>
<path d="M587.4 379.2L600.8 379.2L594.1 366.5Z"/>
<path d="M589.1 373.6L602.5 373.6L595.8 360.9Z"/>
<path d="M590.7 368.4L604.1 368.4L597.4 355.7Z"/>
<path d="M592.4 373.6L605.8 373.6L599.1 360.9Z"/>
<path d="M594.0 385.5L607.4 385.5L600.7 372.8Z"/>
<path d="M595.7 392.4L609.1 392.4L602.4 379.7Z"/>
<path d="M597.4 400.3L610.8 400.3L604.1 387.6Z"/>
<path d="M599.0 420.3L612.4 420.3L605.7 407.6Z"/>
<path d="M602.3 409.5L615.7 409.5L609.0 396.8Z"/>
<path d="M605.7 409.5L619.1 409.5L612.4 396.8Z"/>
<path d="M610.6 400.3L624.0 400.3L617.3 387.6Z"/>
<path d="M615.6 420.3L629.0 420.3L622.3 407.6Z"/>
<path d="M136.6 515.5L150.0 515.5L143.3 502.8Z"/>
<path d="M173.2 515.5L186.6 515.5L179.9 502.8Z"/>
<path d="M180.2 515.5L193.6 515.5L186.9 502.8Z"/>
<path d="M184.6 515.5L198.0 515.5L191.3 502.8Z"/>
<path d="M188.9 515.5L202.3 515.5L195.6 502.8Z"/>
<path d="M195.1 515.5L208.5 515.5L201.8 502.8Z"/>
<path d="M619.3 515.5L632.7 515.5L626.0 502.8Z"/>
<path d="M625.3 515.5L638.7 515.5L632.0 502.8Z"/>
<path d="M631.3 515.5L644.7 515.5L638.0 502.8Z"/>
<path d="M637.3 515.5L650.7 515.5L644.0 502.8Z"/>
<path d="M685.1 515.5L698.5 515.5L691.8 502.8Z"/>
<path d="M185.7 474.5L199.1 474.5L192.4 461.8Z"/>
<path d="M191.3 474.5L204.7 474.5L198.0 461.8Z"/>
<path d="M198.3 474.5L211.7 474.5L205.0 461.8Z"/>
<path d="M221.3 474.5L234.7 474.5L228.0 461.8Z"/>
<path d="M610.0 474.5L623.4 474.5L616.7 461.8Z"/>
<path d="M618.3 474.5L631.7 474.5L625.0 461.8Z"/>
<path d="M205.3 450.5L218.7 450.5L212.0 437.8Z"/>
<path d="M200.3 450.5L213.7 450.5L207.0 437.8Z"/>
<path d="M613.3 450.5L626.7 450.5L620.0 437.8Z"/>
<path d="M203.9 433.5L217.3 433.5L210.6 420.8Z"/>
<path d="M210.3 433.5L223.7 433.5L217.0 420.8Z"/>
<path d="M608.3 433.5L621.7 433.5L615.0 420.8Z"/>
</g>
<g fill="#2a00ff">
<path d="M214.6 409.6L228.0 409.6L221.3 422.3Z"/>
<path d="M229.5 389.7L242.9 389.7L236.2 402.4Z"/>
<path d="M231.1 409.6L244.5 409.6L237.8 422.3Z"/>
<path d="M232.8 409.6L246.2 409.6L239.5 422.3Z"/>
<path d="M236.1 389.7L249.5 389.7L242.8 402.4Z"/>
<path d="M239.4 409.6L252.8 409.6L246.1 422.3Z"/>
<path d="M241.1 374.8L254.5 374.8L247.8 387.5Z"/>
<path d="M242.8 368.6L256.2 368.6L249.5 381.3Z"/>
<path d="M244.4 374.8L257.8 374.8L251.1 387.5Z"/>
<path d="M246.1 362.9L259.5 362.9L252.8 375.6Z"/>
<path d="M247.7 344.6L261.1 344.6L254.4 357.3Z"/>
<path d="M249.4 333.8L262.8 333.8L256.1 346.5Z"/>
<path d="M251.1 333.8L264.5 333.8L257.8 346.5Z"/>
<path d="M252.7 353.0L266.1 353.0L259.4 365.7Z"/>
<path d="M254.4 337.2L267.8 337.2L261.1 349.9Z"/>
<path d="M256.0 333.8L269.4 333.8L262.7 346.5Z"/>
<path d="M257.7 327.5L271.1 327.5L264.4 340.2Z"/>
<path d="M259.4 312.0L272.8 312.0L266.1 324.7Z"/>
<path d="M261.0 324.6L274.4 324.6L267.7 337.3Z"/>
<path d="M262.7 296.1L276.1 296.1L269.4 308.8Z"/>
<path d="M264.3 296.1L277.7 296.1L271.0 308.8Z"/>
<path d="M266.0 296.1L279.4 296.1L272.7 308.8Z"/>
<path d="M267.7 294.4L281.1 294.4L274.4 307.1Z"/>
<path d="M269.3 309.8L282.7 309.8L276.0 322.5Z"/>
<path d="M271.0 280.9L284.4 280.9L277.7 293.6Z"/>
<path d="M272.6 283.6L286.0 283.6L279.3 296.3Z"/>
<path d="M274.3 280.9L287.7 280.9L281.0 293.6Z"/>
<path d="M276.0 269.8L289.4 269.8L282.7 282.5Z"/>
<path d="M277.6 274.5L291.0 274.5L284.3 287.2Z"/>
<path d="M279.3 257.8L292.7 257.8L286.0 270.5Z"/>
<path d="M280.9 262.5L294.3 262.5L287.6 275.2Z"/>
<path d="M282.6 255.1L296.0 255.1L289.3 267.8Z"/>
<path d="M284.3 247.7L297.7 247.7L291.0 260.4Z"/>
<path d="M285.9 244.7L299.3 244.7L292.6 257.4Z"/>
<path d="M287.6 247.7L301.0 247.7L294.3 260.4Z"/>
<path d="M289.2 244.0L302.6 244.0L295.9 256.7Z"/>
<path d="M290.9 231.7L304.3 231.7L297.6 244.4Z"/>
<path d="M292.6 239.2L306.0 239.2L299.3 251.9Z"/>
<path d="M294.2 228.3L307.6 228.3L300.9 241.0Z"/>
<path d="M295.9 221.5L309.3 221.5L302.6 234.2Z"/>
<path d="M297.5 224.0L310.9 224.0L304.2 236.7Z"/>
<path d="M299.2 227.2L312.6 227.2L305.9 239.9Z"/>
<path d="M300.8 228.8L314.2 228.8L307.5 241.5Z"/>
<path d="M302.5 209.5L315.9 209.5L309.2 222.2Z"/>
<path d="M304.2 214.1L317.6 214.1L310.9 226.8Z"/>
<path d="M305.8 201.9L319.2 201.9L312.5 214.6Z"/>
<path d="M307.5 208.3L320.9 208.3L314.2 221.0Z"/>
<path d="M309.1 187.5L322.5 187.5L315.8 200.2Z"/>
<path d="M310.8 193.0L324.2 193.0L317.5 205.7Z"/>
<path d="M312.5 190.1L325.9 190.1L319.2 202.8Z"/>
<path d="M314.1 182.2L327.5 182.2L320.8 194.9Z"/>
<path d="M315.8 188.9L329.2 188.9L322.5 201.6Z"/>
<path d="M317.4 179.0L330.8 179.0L324.1 191.7Z"/>
<path d="M319.1 193.3L332.5 193.3L325.8 206.0Z"/>
<path d="M320.8 168.8L334.2 168.8L327.5 181.5Z"/>
<path d="M322.4 170.7L335.8 170.7L329.1 183.4Z"/>
<path d="M324.1 173.0L337.5 173.0L330.8 185.7Z"/>
<path d="M325.7 170.9L339.1 170.9L332.4 183.6Z"/>
<path d="M327.4 162.9L340.8 162.9L334.1 175.6Z"/>
<path d="M329.1 159.7L342.5 159.7L335.8 172.4Z"/>
<path d="M330.7 155.5L344.1 155.5L337.4 168.2Z"/>
<path d="M332.4 150.5L345.8 150.5L339.1 163.2Z"/>
<path d="M334.0 154.2L347.4 154.2L340.7 166.9Z"/>
<path d="M335.7 144.2L349.1 144.2L342.4 156.9Z"/>
<path d="M337.4 150.4L350.8 150.4L344.1 163.1Z"/>
<path d="M339.0 149.5L352.4 149.5L345.7 162.2Z"/>
<path d="M340.7 137.6L354.1 137.6L347.4 150.3Z"/>
<path d="M342.3 136.5L355.7 136.5L349.0 149.2Z"/>
<path d="M344.0 134.8L357.4 134.8L350.7 147.5Z"/>
<path d="M345.7 129.2L359.1 129.2L352.4 141.9Z"/>
<path d="M347.3 131.8L360.7 131.8L354.0 144.5Z"/>
<path d="M349.0 130.9L362.4 130.9L355.7 143.6Z"/>
<path d="M350.6 129.3L364.0 129.3L357.3 142.0Z"/>
<path d="M352.3 128.6L365.7 128.6L359.0 141.3Z"/>
<path d="M354.0 128.7L367.4 128.7L360.7 141.4Z"/>
<path d="M355.6 120.4L369.0 120.4L362.3 133.1Z"/>
<path d="M357.3 115.5L370.7 115.5L364.0 128.2Z"/>
<path d="M358.9 117.0L372.3 117.0L365.6 129.7Z"/>
<path d="M360.6 116.7L374.0 116.7L367.3 129.4Z"/>
<path d="M362.3 113.3L375.7 113.3L369.0 126.0Z"/>
<path d="M363.9 114.1L377.3 114.1L370.6 126.8Z"/>
<path d="M365.6 109.3L379.0 109.3L372.3 122.0Z"/>
<path d="M367.2 108.8L380.6 108.8L373.9 121.5Z"/>
<path d="M368.9 108.4L382.3 108.4L375.6 121.1Z"/>
<path d="M370.6 105.4L384.0 105.4L377.3 118.1Z"/>
<path d="M372.2 106.2L385.6 106.2L378.9 118.9Z"/>
<path d="M373.9 102.9L387.3 102.9L380.6 115.6Z"/>
<path d="M375.5 105.2L388.9 105.2L382.2 117.9Z"/>
<path d="M377.2 104.1L390.6 104.1L383.9 116.8Z"/>
<path d="M378.9 100.2L392.3 100.2L385.6 112.9Z"/>
<path d="M380.5 115.4L393.9 115.4L387.2 128.1Z"/>
<path d="M382.2 104.3L395.6 104.3L388.9 117.0Z"/>
<path d="M383.8 95.7L397.2 95.7L390.5 108.4Z"/>
<path d="M385.5 92.5L398.9 92.5L392.2 105.2Z"/>
<path d="M387.1 99.3L400.5 99.3L393.8 112.0Z"/>
<path d="M388.8 94.4L402.2 94.4L395.5 107.1Z"/>
<path d="M390.5 95.4L403.9 95.4L397.2 108.1Z"/>
<path d="M392.1 90.5L405.5 90.5L398.8 103.2Z"/>
<path d="M393.8 89.0L407.2 89.0L400.5 101.7Z"/>
<path d="M395.4 89.1L408.8 89.1L402.1 101.8Z"/>
<path d="M397.1 85.2L410.5 85.2L403.8 97.9Z"/>
<path d="M398.8 83.9L412.2 83.9L405.5 96.6Z"/>
<path d="M400.4 90.3L413.8 90.3L407.1 103.0Z"/>
<path d="M402.1 90.4L415.5 90.4L408.8 103.1Z"/>
<path d="M403.7 85.3L417.1 85.3L410.4 98.0Z"/>
<path d="M405.4 88.3L418.8 88.3L412.1 101.0Z"/>
<path d="M407.1 88.3L420.5 88.3L413.8 101.0Z"/>
<path d="M408.7 91.3L422.1 91.3L415.4 104.0Z"/>
<path d="M410.4 88.3L423.8 88.3L417.1 101.0Z"/>
<path d="M412.0 92.1L425.4 92.1L418.7 104.8Z"/>
<path d="M413.7 82.1L427.1 82.1L420.4 94.8Z"/>
<path d="M415.4 84.1L428.8 84.1L422.1 96.8Z"/>
<path d="M417.0 82.2L430.4 82.2L423.7 94.9Z"/>
<path d="M418.7 80.4L432.1 80.4L425.4 93.1Z"/>
<path d="M420.3 82.9L433.7 82.9L427.0 95.6Z"/>
<path d="M422.0 89.3L435.4 89.3L428.7 102.0Z"/>
<path d="M423.7 86.4L437.1 86.4L430.4 99.1Z"/>
<path d="M425.3 80.7L438.7 80.7L432.0 93.4Z"/>
<path d="M427.0 85.7L440.4 85.7L433.7 98.4Z"/>
<path d="M428.6 80.6L442.0 80.6L435.3 93.3Z"/>
<path d="M430.3 83.3L443.7 83.3L437.0 96.0Z"/>
<path d="M432.0 86.4L445.4 86.4L438.7 99.1Z"/>
<path d="M433.6 84.9L447.0 84.9L440.3 97.6Z"/>
<path d="M435.3 93.9L448.7 93.9L442.0 106.6Z"/>
<path d="M436.9 82.5L450.3 82.5L443.6 95.2Z"/>
<path d="M438.6 86.0L452.0 86.0L445.3 98.7Z"/>
<path d="M440.3 85.0L453.7 85.0L447.0 97.7Z"/>
<path d="M441.9 87.5L455.3 87.5L448.6 100.2Z"/>
<path d="M443.6 84.0L457.0 84.0L450.3 96.7Z"/>
<path d="M445.2 86.7L458.6 86.7L451.9 99.4Z"/>
<path d="M446.9 88.1L460.3 88.1L453.6 100.8Z"/>
<path d="M448.6 89.6L462.0 89.6L455.3 102.3Z"/>
<path d="M450.2 87.4L463.6 87.4L456.9 100.1Z"/>
<path d="M451.9 94.3L465.3 94.3L458.6 107.0Z"/>
<path d="M453.5 95.4L466.9 95.4L460.2 108.1Z"/>
<path d="M455.2 92.3L468.6 92.3L461.9 105.0Z"/>
<path d="M456.9 91.4L470.3 91.4L463.6 104.1Z"/>
<path d="M458.5 99.2L471.9 99.2L465.2 111.9Z"/>
<path d="M460.2 98.9L473.6 98.9L466.9 111.6Z"/>
<path d="M461.8 99.4L475.2 99.4L468.5 112.1Z"/>
<path d="M463.5 100.8L476.9 100.8L470.2 113.5Z"/>
<path d="M465.1 105.0L478.5 105.0L471.8 117.7Z"/>
<path d="M466.8 104.9L480.2 104.9L473.5 117.6Z"/>
<path d="M468.5 103.1L481.9 103.1L475.2 115.8Z"/>
<path d="M470.1 105.5L483.5 105.5L476.8 118.2Z"/>
<path d="M471.8 109.7L485.2 109.7L478.5 122.4Z"/>
<path d="M473.4 106.7L486.8 106.7L480.1 119.4Z"/>
<path d="M475.1 103.7L488.5 103.7L481.8 116.4Z"/>
<path d="M476.8 108.4L490.2 108.4L483.5 121.1Z"/>
<path d="M478.4 114.5L491.8 114.5L485.1 127.2Z"/>
<path d="M480.1 114.0L493.5 114.0L486.8 126.7Z"/>
<path d="M481.7 117.5L495.1 117.5L488.4 130.2Z"/>
<path d="M483.4 117.4L496.8 117.4L490.1 130.1Z"/>
<path d="M485.1 119.8L498.5 119.8L491.8 132.5Z"/>
<path d="M486.7 121.6L500.1 121.6L493.4 134.3Z"/>
<path d="M488.4 122.1L501.8 122.1L495.1 134.8Z"/>
<path d="M490.0 119.5L503.4 119.5L496.7 132.2Z"/>
<path d="M491.7 125.5L505.1 125.5L498.4 138.2Z"/>
<path d="M493.4 130.9L506.8 130.9L500.1 143.6Z"/>
<path d="M495.0 140.2L508.4 140.2L501.7 152.9Z"/>
<path d="M496.7 134.3L510.1 134.3L503.4 147.0Z"/>
<path d="M498.3 138.9L511.7 138.9L505.0 151.6Z"/>
<path d="M500.0 136.2L513.4 136.2L506.7 148.9Z"/>
<path d="M501.7 140.4L515.1 140.4L508.4 153.1Z"/>
<path d="M503.3 143.1L516.7 143.1L510.0 155.8Z"/>
<path d="M505.0 139.2L518.4 139.2L511.7 151.9Z"/>
<path d="M506.6 147.5L520.0 147.5L513.3 160.2Z"/>
<path d="M508.3 147.2L521.7 147.2L515.0 159.9Z"/>
<path d="M510.0 146.5L523.4 146.5L516.7 159.2Z"/>
<path d="M511.6 153.9L525.0 153.9L518.3 166.6Z"/>
<path d="M513.3 163.8L526.7 163.8L520.0 176.5Z"/>
<path d="M514.9 161.2L528.3 161.2L521.6 173.9Z"/>
<path d="M516.6 167.2L530.0 167.2L523.3 179.9Z"/>
<path d="M518.3 162.0L531.7 162.0L525.0 174.7Z"/>
<path d="M519.9 169.9L533.3 169.9L526.6 182.6Z"/>
<path d="M521.6 154.0L535.0 154.0L528.3 166.7Z"/>
<path d="M523.2 174.6L536.6 174.6L529.9 187.3Z"/>
<path d="M524.9 177.8L538.3 177.8L531.6 190.5Z"/>
<path d="M526.6 179.0L540.0 179.0L533.3 191.7Z"/>
<path d="M528.2 186.1L541.6 186.1L534.9 198.8Z"/>
<path d="M529.9 185.3L543.3 185.3L536.6 198.0Z"/>
<path d="M531.5 197.5L544.9 197.5L538.2 210.2Z"/>
<path d="M533.2 200.5L546.6 200.5L539.9 213.2Z"/>
<path d="M534.9 194.0L548.3 194.0L541.6 206.7Z"/>
<path d="M536.5 196.8L549.9 196.8L543.2 209.5Z"/>
<path d="M538.2 204.4L551.6 204.4L544.9 217.1Z"/>
<path d="M539.8 205.2L553.2 205.2L546.5 217.9Z"/>
<path d="M541.5 208.7L554.9 208.7L548.2 221.4Z"/>
<path d="M543.2 227.7L556.6 227.7L549.9 240.4Z"/>
<path d="M544.8 215.4L558.2 215.4L551.5 228.1Z"/>
<path d="M546.5 231.1L559.9 231.1L553.2 243.8Z"/>
<path d="M548.1 226.6L561.5 226.6L554.8 239.3Z"/>
<path d="M549.8 235.9L563.2 235.9L556.5 248.6Z"/>
<path d="M551.4 233.5L564.8 233.5L558.1 246.2Z"/>
<path d="M553.1 243.3L566.5 243.3L559.8 256.0Z"/>
<path d="M554.8 234.1L568.2 234.1L561.5 246.8Z"/>
<path d="M556.4 238.5L569.8 238.5L563.1 251.2Z"/>
<path d="M558.1 245.5L571.5 245.5L564.8 258.2Z"/>
<path d="M559.7 260.6L573.1 260.6L566.4 273.3Z"/>
<path d="M561.4 251.7L574.8 251.7L568.1 264.4Z"/>
<path d="M563.1 252.5L576.5 252.5L569.8 265.2Z"/>
<path d="M564.7 272.1L578.1 272.1L571.4 284.8Z"/>
<path d="M566.4 273.3L579.8 273.3L573.1 286.0Z"/>
<path d="M568.0 275.7L581.4 275.7L574.7 288.4Z"/>
<path d="M569.7 289.5L583.1 289.5L576.4 302.2Z"/>
<path d="M571.4 274.5L584.8 274.5L578.1 287.2Z"/>
<path d="M573.0 296.1L586.4 296.1L579.7 308.8Z"/>
<path d="M574.7 299.7L588.1 299.7L581.4 312.4Z"/>
<path d="M576.3 309.8L589.7 309.8L583.0 322.5Z"/>
<path d="M578.0 303.5L591.4 303.5L584.7 316.2Z"/>
<path d="M579.7 297.9L593.1 297.9L586.4 310.6Z"/>
<path d="M581.3 301.6L594.7 301.6L588.0 314.3Z"/>
<path d="M583.0 314.3L596.4 314.3L589.7 327.0Z"/>
<path d="M584.6 324.6L598.0 324.6L591.3 337.3Z"/>
<path d="M586.3 357.8L599.7 357.8L593.0 370.5Z"/>
<path d="M588.0 316.7L601.4 316.7L594.7 329.4Z"/>
<path d="M589.6 344.6L603.0 344.6L596.3 357.3Z"/>
<path d="M591.3 319.3L604.7 319.3L598.0 332.0Z"/>
<path d="M592.9 368.6L606.3 368.6L599.6 381.3Z"/>
<path d="M594.6 362.9L608.0 362.9L601.3 375.6Z"/>
<path d="M596.3 348.6L609.7 348.6L603.0 361.3Z"/>
<path d="M597.9 357.8L611.3 357.8L604.6 370.5Z"/>
<path d="M599.6 368.6L613.0 368.6L606.3 381.3Z"/>
<path d="M601.2 368.6L614.6 368.6L607.9 381.3Z"/>
<path d="M602.9 398.8L616.3 398.8L609.6 411.5Z"/>
<path d="M604.6 409.6L618.0 409.6L611.3 422.3Z"/>
<path d="M606.2 357.8L619.6 357.8L612.9 370.5Z"/>
<path d="M607.9 409.6L621.3 409.6L614.6 422.3Z"/>
<path d="M609.5 381.8L622.9 381.8L616.2 394.5Z"/>
<path d="M611.2 381.8L624.6 381.8L617.9 394.5Z"/>
<path d="M612.9 389.7L626.3 389.7L619.6 402.4Z"/>
<path d="M614.5 409.6L627.9 409.6L621.2 422.3Z"/>
<path d="M621.2 409.6L634.6 409.6L627.9 422.3Z"/>
<path d="M626.1 381.8L639.5 381.8L632.8 394.5Z"/>
<path d="M419.8 95.2L433.2 95.2L426.5 107.9Z"/>
<path d="M169.2 504.9L182.6 504.9L175.9 517.6Z"/>
<path d="M176.7 504.9L190.1 504.9L183.4 517.6Z"/>
<path d="M192.4 504.9L205.8 504.9L199.1 517.6Z"/>
<path d="M200.3 504.9L213.7 504.9L207.0 517.6Z"/>
<path d="M208.2 504.9L221.6 504.9L214.9 517.6Z"/>
<path d="M645.0 504.9L658.4 504.9L651.7 517.6Z"/>
<path d="M685.1 504.9L698.5 504.9L691.8 517.6Z"/>
<path d="M187.3 463.8L200.7 463.8L194.0 476.5Z"/>
<path d="M196.0 463.8L209.4 463.8L202.7 476.5Z"/>
<path d="M207.9 463.8L221.3 463.8L214.6 476.5Z"/>
<path d="M214.3 463.8L227.7 463.8L221.0 476.5Z"/>
<path d="M621.3 463.8L634.7 463.8L628.0 476.5Z"/>
<path d="M627.3 463.8L640.7 463.8L634.0 476.5Z"/>
<path d="M634.3 463.8L647.7 463.8L641.0 476.5Z"/>
<path d="M642.9 463.8L656.3 463.8L649.6 476.5Z"/>
<path d="M652.8 463.8L666.2 463.8L659.5 476.5Z"/>
<path d="M207.9 439.8L221.3 439.8L214.6 452.5Z"/>
<path d="M221.3 439.8L234.7 439.8L228.0 452.5Z"/>
<path d="M227.7 439.8L241.1 439.8L234.4 452.5Z"/>
<path d="M240.3 439.8L253.7 439.8L247.0 452.5Z"/>
<path d="M617.3 439.8L630.7 439.8L624.0 452.5Z"/>
<path d="M623.3 439.8L636.7 439.8L630.0 452.5Z"/>
<path d="M629.3 439.8L642.7 439.8L636.0 452.5Z"/>
<path d="M221.3 422.8L234.7 422.8L228.0 435.5Z"/>
<path d="M612.3 422.8L625.7 422.8L619.0 435.5Z"/>
<path d="M617.3 422.8L630.7 422.8L624.0 435.5Z"/>
</g>
<path d="M212.0 551.2L213.5 545.1L215.0 539.0L216.6 533.0L218.1 527.0L219.6 521.0L221.2 515.1L222.7 509.2L224.2 503.4L225.8 497.6L227.3 491.8L228.8 486.1L230.4 480.5L231.9 474.8L233.4 469.2L235.0 463.7L236.5 458.2L238.0 452.7L239.5 447.3L241.1 441.9L242.6 436.6L244.1 431.3L245.7 426.0L247.2 420.8L248.7 415.6L250.3 410.5L251.8 405.4L253.3 400.3L254.9 395.3L256.4 390.3L257.9 385.4L259.5 380.5L261.0 375.6L262.5 370.8L264.0 366.0L265.6 361.3L267.1 356.6L268.6 352.0L270.2 347.4L271.7 342.8L273.2 338.3L274.8 333.8L276.3 329.3L277.8 324.9L279.4 320.6L280.9 316.3L282.4 312.0L284.0 307.7L285.5 303.5L287.0 299.4L288.6 295.3L290.1 291.2L291.6 287.2L293.1 283.2L294.7 279.2L296.2 275.3L297.7 271.4L299.3 267.6L300.8 263.8L302.3 260.1L303.9 256.4L305.4 252.7L306.9 249.1L308.5 245.5L310.0 242.0L311.5 238.5L313.1 235.0L314.6 231.6L316.1 228.2L317.7 224.9L319.2 221.6L320.7 218.3L322.2 215.1L323.8 211.9L325.3 208.8L326.8 205.7L328.4 202.6L329.9 199.6L331.4 196.7L333.0 193.7L334.5 190.8L336.0 188.0L337.6 185.2L339.1 182.4L340.6 179.7L342.2 177.0L343.7 174.4L345.2 171.8L346.7 169.2L348.3 166.7L349.8 164.2L351.3 161.8L352.9 159.4L354.4 157.0L355.9 154.7L357.5 152.4L359.0 150.2L360.5 148.0L362.1 145.9L363.6 143.8L365.1 141.7L366.7 139.7L368.2 137.7L369.7 135.7L371.3 133.8L372.8 132.0L374.3 130.2L375.8 128.4L377.4 126.6L378.9 124.9L380.4 123.3L382.0 121.7L383.5 120.1L385.0 118.5L386.6 117.0L388.1 115.6L389.6 114.2L391.2 112.8L392.7 111.5L394.2 110.2L395.8 108.9L397.3 107.7L398.8 106.6L400.4 105.4L401.9 104.3L403.4 103.3L404.9 102.3L406.5 101.3L408.0 100.4L409.5 99.5L411.1 98.7L412.6 97.9L414.1 97.1L415.7 96.4L417.2 95.7L418.7 95.1L420.3 94.5L421.8 94.0L423.3 93.5L424.9 93.0L426.4 92.6L427.9 92.2L429.4 91.8L431.0 91.5L432.5 91.2L434.0 91.0L435.6 90.8L437.1 90.7L438.6 90.6L440.2 90.5L441.7 90.5L443.2 90.5L444.8 90.6L446.3 90.7L447.8 90.8L449.4 91.0L450.9 91.2L452.4 91.5L454.0 91.8L455.5 92.2L457.0 92.6L458.5 93.0L460.1 93.5L461.6 94.0L463.1 94.5L464.7 95.1L466.2 95.7L467.7 96.4L469.3 97.1L470.8 97.9L472.3 98.7L473.9 99.5L475.4 100.4L476.9 101.3L478.5 102.3L480.0 103.3L481.5 104.3L483.0 105.4L484.6 106.6L486.1 107.7L487.6 108.9L489.2 110.2L490.7 111.5L492.2 112.8L493.8 114.2L495.3 115.6L496.8 117.0L498.4 118.5L499.9 120.1L501.4 121.7L503.0 123.3L504.5 124.9L506.0 126.6L507.6 128.4L509.1 130.2L510.6 132.0L512.1 133.8L513.7 135.7L515.2 137.7L516.7 139.7L518.3 141.7L519.8 143.8L521.3 145.9L522.9 148.0L524.4 150.2L525.9 152.4L527.5 154.7L529.0 157.0L530.5 159.4L532.1 161.8L533.6 164.2L535.1 166.7L536.7 169.2L538.2 171.8L539.7 174.4L541.2 177.0L542.8 179.7L544.3 182.4L545.8 185.2L547.4 188.0L548.9 190.8L550.4 193.7L552.0 196.7L553.5 199.6L555.0 202.6L556.6 205.7L558.1 208.8L559.6 211.9L561.2 215.1L562.7 218.3L564.2 221.6L565.7 224.9L567.3 228.2L568.8 231.6L570.3 235.0L571.9 238.5L573.4 242.0L574.9 245.5L576.5 249.1L578.0 252.7L579.5 256.4L581.1 260.1L582.6 263.8L584.1 267.6L585.7 271.4L587.2 275.3L588.7 279.2L590.3 283.2L591.8 287.2L593.3 291.2L594.8 295.3L596.4 299.4L597.9 303.5L599.4 307.7L601.0 312.0L602.5 316.3L604.0 320.6L605.6 324.9L607.1 329.3L608.6 333.8L610.2 338.3L611.7 342.8L613.2 347.4L614.8 352.0L616.3 356.6L617.8 361.3L619.4 366.0L620.9 370.8L622.4 375.6L623.9 380.5L625.5 385.4L627.0 390.3L628.5 395.3L630.1 400.3L631.6 405.4L633.1 410.5L634.7 415.6L636.2 420.8L637.7 426.0L639.3 431.3L640.8 436.6L642.3 441.9L643.9 447.3L645.4 452.7L646.9 458.2L648.4 463.7L650.0 469.2L651.5 474.8L653.0 480.5L654.6 486.1L656.1 491.8L657.6 497.6L659.2 503.4L660.7 509.2L662.2 515.1L663.8 521.0L665.3 527.0L666.8 533.0L668.4 539.0L669.9 545.1L671.4 551.2" stroke="#666" stroke-opacity="0.7" stroke-width="1" fill="none"/>
<path d="M202.1 551.2L203.6 545.1L205.1 539.0L206.7 533.0L208.2 526.9L209.7 521.0L211.3 515.1L212.8 509.2L214.3 503.3L215.9 497.5L217.4 491.8L218.9 486.0L220.5 480.4L222.0 474.7L223.6 469.1L225.1 463.6L226.6 458.0L228.2 452.6L229.7 447.1L231.2 441.7L232.8 436.4L234.3 431.1L235.8 425.8L237.4 420.6L238.9 415.4L240.4 410.2L242.0 405.1L243.5 400.1L245.0 395.0L246.6 390.0L248.1 385.1L249.6 380.2L251.2 375.3L252.7 370.5L254.3 365.7L255.8 361.0L257.3 356.3L258.9 351.7L260.4 347.0L261.9 342.5L263.5 337.9L265.0 333.4L266.5 329.0L268.1 324.6L269.6 320.2L271.1 315.9L272.7 311.6L274.2 307.4L275.7 303.2L277.3 299.0L278.8 294.9L280.3 290.8L281.9 286.7L283.4 282.7L284.9 278.8L286.5 274.9L288.0 271.0L289.6 267.2L291.1 263.4L292.6 259.6L294.2 255.9L295.7 252.2L297.2 248.6L298.8 245.0L300.3 241.5L301.8 238.0L303.4 234.5L304.9 231.1L306.4 227.7L308.0 224.3L309.5 221.0L311.0 217.8L312.6 214.6L314.1 211.4L315.6 208.2L317.2 205.1L318.7 202.1L320.3 199.1L321.8 196.1L323.3 193.2L324.9 190.3L326.4 187.4L327.9 184.6L329.5 181.8L331.0 179.1L332.5 176.4L334.1 173.8L335.6 171.2L337.1 168.6L338.7 166.1L340.2 163.6L341.7 161.2L343.3 158.8L344.8 156.4L346.3 154.1L347.9 151.8L349.4 149.6L350.9 147.4L352.5 145.2L354.0 143.1L355.6 141.0L357.1 139.0L358.6 137.0L360.2 135.1L361.7 133.2L363.2 131.3L364.8 129.5L366.3 127.7L367.8 126.0L369.4 124.2L370.9 122.6L372.4 121.0L374.0 119.4L375.5 117.8L377.0 116.4L378.6 114.9L380.1 113.5L381.6 112.1L383.2 110.8L384.7 109.5L386.2 108.2L387.8 107.0L389.3 105.9L390.9 104.7L392.4 103.6L393.9 102.6L395.5 101.6L397.0 100.6L398.5 99.7L400.1 98.8L401.6 98.0L403.1 97.2L404.7 96.4L406.2 95.7L407.7 95.0L409.3 94.4L410.8 93.8L412.3 93.2L413.9 92.7L415.4 92.3L416.9 91.8L418.5 91.4L420.0 91.1L421.6 90.8L423.1 90.5L424.6 90.3L426.2 90.1L427.7 90.0L429.2 89.9L430.8 89.8L432.3 89.8L433.8 89.8L435.4 89.9L436.9 90.0L438.4 90.1L440.0 90.3L441.5 90.5L443.0 90.8L444.6 91.1L446.1 91.4L447.6 91.8L449.2 92.3L450.7 92.7L452.2 93.2L453.8 93.8L455.3 94.4L456.9 95.0L458.4 95.7L459.9 96.4L461.5 97.2L463.0 98.0L464.5 98.8L466.1 99.7L467.6 100.6L469.1 101.6L470.7 102.6L472.2 103.6L473.7 104.7L475.3 105.9L476.8 107.0L478.3 108.2L479.9 109.5L481.4 110.8L482.9 112.1L484.5 113.5L486.0 114.9L487.6 116.4L489.1 117.8L490.6 119.4L492.2 121.0L493.7 122.6L495.2 124.2L496.8 126.0L498.3 127.7L499.8 129.5L501.4 131.3L502.9 133.2L504.4 135.1L506.0 137.0L507.5 139.0L509.0 141.0L510.6 143.1L512.1 145.2L513.6 147.4L515.2 149.6L516.7 151.8L518.2 154.1L519.8 156.4L521.3 158.8L522.9 161.2L524.4 163.6L525.9 166.1L527.5 168.6L529.0 171.2L530.5 173.8L532.1 176.4L533.6 179.1L535.1 181.8L536.7 184.6L538.2 187.4L539.7 190.3L541.3 193.2L542.8 196.1L544.3 199.1L545.9 202.1L547.4 205.1L548.9 208.2L550.5 211.4L552.0 214.6L553.6 217.8L555.1 221.0L556.6 224.3L558.2 227.7L559.7 231.1L561.2 234.5L562.8 238.0L564.3 241.5L565.8 245.0L567.4 248.6L568.9 252.2L570.4 255.9L572.0 259.6L573.5 263.4L575.0 267.2L576.6 271.0L578.1 274.9L579.6 278.8L581.2 282.7L582.7 286.7L584.2 290.8L585.8 294.9L587.3 299.0L588.9 303.2L590.4 307.4L591.9 311.6L593.5 315.9L595.0 320.2L596.5 324.6L598.1 329.0L599.6 333.4L601.1 337.9L602.7 342.5L604.2 347.0L605.7 351.7L607.3 356.3L608.8 361.0L610.3 365.7L611.9 370.5L613.4 375.3L614.9 380.2L616.5 385.1L618.0 390.0L619.6 395.0L621.1 400.1L622.6 405.1L624.2 410.2L625.7 415.4L627.2 420.6L628.8 425.8L630.3 431.1L631.8 436.4L633.4 441.7L634.9 447.1L636.4 452.6L638.0 458.0L639.5 463.6L641.0 469.1L642.6 474.7L644.1 480.4L645.6 486.0L647.2 491.8L648.7 497.5L650.2 503.3L651.8 509.2L653.3 515.1L654.9 521.0L656.4 526.9L657.9 533.0L659.5 539.0L661.0 545.1L662.5 551.2" stroke="#dc1c4c" stroke-opacity="0.7" stroke-width="1.1" fill="none"/>
<path d="M188.4 551.2L190.0 545.1L191.5 539.0L193.0 533.0L194.6 526.9L196.1 521.0L197.6 515.1L199.2 509.2L200.7 503.3L202.3 497.5L203.8 491.8L205.3 486.0L206.9 480.4L208.4 474.7L209.9 469.1L211.5 463.6L213.0 458.0L214.5 452.6L216.1 447.1L217.6 441.7L219.2 436.4L220.7 431.1L222.2 425.8L223.8 420.6L225.3 415.4L226.8 410.2L228.4 405.1L229.9 400.1L231.4 395.0L233.0 390.0L234.5 385.1L236.1 380.2L237.6 375.3L239.1 370.5L240.7 365.7L242.2 361.0L243.7 356.3L245.3 351.7L246.8 347.0L248.3 342.5L249.9 337.9L251.4 333.4L253.0 329.0L254.5 324.6L256.0 320.2L257.6 315.9L259.1 311.6L260.6 307.4L262.2 303.2L263.7 299.0L265.2 294.9L266.8 290.8L268.3 286.7L269.9 282.7L271.4 278.8L272.9 274.9L274.5 271.0L276.0 267.2L277.5 263.4L279.1 259.6L280.6 255.9L282.1 252.2L283.7 248.6L285.2 245.0L286.8 241.5L288.3 238.0L289.8 234.5L291.4 231.1L292.9 227.7L294.4 224.3L296.0 221.0L297.5 217.8L299.0 214.6L300.6 211.4L302.1 208.2L303.7 205.1L305.2 202.1L306.7 199.1L308.3 196.1L309.8 193.2L311.3 190.3L312.9 187.4L314.4 184.6L315.9 181.8L317.5 179.1L319.0 176.4L320.6 173.8L322.1 171.2L323.6 168.6L325.2 166.1L326.7 163.6L328.2 161.2L329.8 158.8L331.3 156.4L332.8 154.1L334.4 151.8L335.9 149.6L337.5 147.4L339.0 145.2L340.5 143.1L342.1 141.0L343.6 139.0L345.1 137.0L346.7 135.1L348.2 133.2L349.7 131.3L351.3 129.5L352.8 127.7L354.4 126.0L355.9 124.2L357.4 122.6L359.0 121.0L360.5 119.4L362.0 117.8L363.6 116.4L365.1 114.9L366.6 113.5L368.2 112.1L369.7 110.8L371.3 109.5L372.8 108.2L374.3 107.0L375.9 105.9L377.4 104.7L378.9 103.6L380.5 102.6L382.0 101.6L383.5 100.6L385.1 99.7L386.6 98.8L388.2 98.0L389.7 97.2L391.2 96.4L392.8 95.7L394.3 95.0L395.8 94.4L397.4 93.8L398.9 93.2L400.4 92.7L402.0 92.3L403.5 91.8L405.1 91.4L406.6 91.1L408.1 90.8L409.7 90.5L411.2 90.3L412.7 90.1L414.3 90.0L415.8 89.9L417.3 89.8L418.9 89.8L420.4 89.8L422.0 89.9L423.5 90.0L425.0 90.1L426.6 90.3L428.1 90.5L429.6 90.8L431.2 91.1L432.7 91.4L434.2 91.8L435.8 92.3L437.3 92.7L438.9 93.2L440.4 93.8L441.9 94.4L443.5 95.0L445.0 95.7L446.5 96.4L448.1 97.2L449.6 98.0L451.1 98.8L452.7 99.7L454.2 100.6L455.8 101.6L457.3 102.6L458.8 103.6L460.4 104.7L461.9 105.9L463.4 107.0L465.0 108.2L466.5 109.5L468.0 110.8L469.6 112.1L471.1 113.5L472.7 114.9L474.2 116.4L475.7 117.8L477.3 119.4L478.8 121.0L480.3 122.6L481.9 124.2L483.4 126.0L484.9 127.7L486.5 129.5L488.0 131.3L489.6 133.2L491.1 135.1L492.6 137.0L494.2 139.0L495.7 141.0L497.2 143.1L498.8 145.2L500.3 147.4L501.8 149.6L503.4 151.8L504.9 154.1L506.5 156.4L508.0 158.8L509.5 161.2L511.1 163.6L512.6 166.1L514.1 168.6L515.7 171.2L517.2 173.8L518.7 176.4L520.3 179.1L521.8 181.8L523.4 184.6L524.9 187.4L526.4 190.3L528.0 193.2L529.5 196.1L531.0 199.1L532.6 202.1L534.1 205.1L535.6 208.2L537.2 211.4L538.7 214.6L540.3 217.8L541.8 221.0L543.3 224.3L544.9 227.7L546.4 231.1L547.9 234.5L549.5 238.0L551.0 241.5L552.5 245.0L554.1 248.6L555.6 252.2L557.2 255.9L558.7 259.6L560.2 263.4L561.8 267.2L563.3 271.0L564.8 274.9L566.4 278.8L567.9 282.7L569.4 286.7L571.0 290.8L572.5 294.9L574.1 299.0L575.6 303.2L577.1 307.4L578.7 311.6L580.2 315.9L581.7 320.2L583.3 324.6L584.8 329.0L586.3 333.4L587.9 337.9L589.4 342.5L590.9 347.0L592.5 351.7L594.0 356.3L595.6 361.0L597.1 365.7L598.6 370.5L600.2 375.3L601.7 380.2L603.2 385.1L604.8 390.0L606.3 395.0L607.8 400.1L609.4 405.1L610.9 410.2L612.5 415.4L614.0 420.6L615.5 425.8L617.1 431.1L618.6 436.4L620.1 441.7L621.7 447.1L623.2 452.6L624.7 458.0L626.3 463.6L627.8 469.1L629.4 474.7L630.9 480.4L632.4 486.0L634.0 491.8L635.5 497.5L637.0 503.3L638.6 509.2L640.1 515.1L641.6 521.0L643.2 526.9L644.7 533.0L646.3 539.0L647.8 545.1L649.3 551.2" stroke="#66ff14" stroke-width="1.2" fill="none"/>
<path d="M200.9 551.2L202.4 545.1L203.9 539.0L205.4 532.9L206.9 526.9L208.4 520.9L210.0 515.0L211.5 509.1L213.0 503.2L214.5 497.4L216.0 491.7L217.5 485.9L219.1 480.2L220.6 474.6L222.1 469.0L223.6 463.4L225.1 457.9L226.6 452.4L228.2 447.0L229.7 441.6L231.2 436.2L232.7 430.9L234.2 425.6L235.7 420.4L237.3 415.2L238.8 410.0L240.3 404.9L241.8 399.8L243.3 394.8L244.9 389.8L246.4 384.8L247.9 379.9L249.4 375.1L250.9 370.2L252.4 365.5L254.0 360.7L255.5 356.0L257.0 351.3L258.5 346.7L260.0 342.1L261.5 337.6L263.1 333.1L264.6 328.6L266.1 324.2L267.6 319.9L269.1 315.5L270.6 311.2L272.2 307.0L273.7 302.8L275.2 298.6L276.7 294.5L278.2 290.4L279.7 286.3L281.3 282.3L282.8 278.4L284.3 274.4L285.8 270.6L287.3 266.7L288.8 262.9L290.4 259.2L291.9 255.4L293.4 251.8L294.9 248.1L296.4 244.5L297.9 241.0L299.5 237.5L301.0 234.0L302.5 230.6L304.0 227.2L305.5 223.8L307.1 220.5L308.6 217.2L310.1 214.0L311.6 210.8L313.1 207.7L314.6 204.6L316.2 201.5L317.7 198.5L319.2 195.5L320.7 192.6L322.2 189.7L323.7 186.8L325.3 184.0L326.8 181.3L328.3 178.5L329.8 175.8L331.3 173.2L332.8 170.6L334.4 168.0L335.9 165.5L337.4 163.0L338.9 160.6L340.4 158.1L341.9 155.8L343.5 153.5L345.0 151.2L346.5 148.9L348.0 146.7L349.5 144.6L351.0 142.5L352.6 140.4L354.1 138.4L355.6 136.4L357.1 134.4L358.6 132.5L360.2 130.6L361.7 128.8L363.2 127.0L364.7 125.3L366.2 123.6L367.7 121.9L369.3 120.3L370.8 118.7L372.3 117.2L373.8 115.7L375.3 114.2L376.8 112.8L378.4 111.4L379.9 110.1L381.4 108.8L382.9 107.5L384.4 106.3L385.9 105.2L387.5 104.0L389.0 102.9L390.5 101.9L392.0 100.9L393.5 99.9L395.0 99.0L396.6 98.1L398.1 97.3L399.6 96.5L401.1 95.7L402.6 95.0L404.1 94.3L405.7 93.7L407.2 93.1L408.7 92.5L410.2 92.0L411.7 91.5L413.3 91.1L414.8 90.7L416.3 90.4L417.8 90.1L419.3 89.8L420.8 89.6L422.4 89.4L423.9 89.2L425.4 89.1L426.9 89.1L428.4 89.0L429.9 89.1L431.5 89.1L433.0 89.2L434.5 89.4L436.0 89.6L437.5 89.8L439.0 90.1L440.6 90.4L442.1 90.7L443.6 91.1L445.1 91.5L446.6 92.0L448.1 92.5L449.7 93.1L451.2 93.7L452.7 94.3L454.2 95.0L455.7 95.7L457.2 96.5L458.8 97.3L460.3 98.1L461.8 99.0L463.3 99.9L464.8 100.9L466.4 101.9L467.9 102.9L469.4 104.0L470.9 105.2L472.4 106.3L473.9 107.5L475.5 108.8L477.0 110.1L478.5 111.4L480.0 112.8L481.5 114.2L483.0 115.7L484.6 117.2L486.1 118.7L487.6 120.3L489.1 121.9L490.6 123.6L492.1 125.3L493.7 127.0L495.2 128.8L496.7 130.6L498.2 132.5L499.7 134.4L501.2 136.4L502.8 138.4L504.3 140.4L505.8 142.5L507.3 144.6L508.8 146.7L510.3 148.9L511.9 151.2L513.4 153.5L514.9 155.8L516.4 158.1L517.9 160.6L519.5 163.0L521.0 165.5L522.5 168.0L524.0 170.6L525.5 173.2L527.0 175.8L528.6 178.5L530.1 181.3L531.6 184.0L533.1 186.8L534.6 189.7L536.1 192.6L537.7 195.5L539.2 198.5L540.7 201.5L542.2 204.6L543.7 207.7L545.2 210.8L546.8 214.0L548.3 217.2L549.8 220.5L551.3 223.8L552.8 227.2L554.3 230.6L555.9 234.0L557.4 237.5L558.9 241.0L560.4 244.5L561.9 248.1L563.4 251.8L565.0 255.4L566.5 259.2L568.0 262.9L569.5 266.7L571.0 270.6L572.6 274.4L574.1 278.4L575.6 282.3L577.1 286.3L578.6 290.4L580.1 294.5L581.7 298.6L583.2 302.8L584.7 307.0L586.2 311.2L587.7 315.5L589.2 319.9L590.8 324.2L592.3 328.6L593.8 333.1L595.3 337.6L596.8 342.1L598.3 346.7L599.9 351.3L601.4 356.0L602.9 360.7L604.4 365.5L605.9 370.2L607.4 375.1L609.0 379.9L610.5 384.8L612.0 389.8L613.5 394.8L615.0 399.8L616.5 404.9L618.1 410.0L619.6 415.2L621.1 420.4L622.6 425.6L624.1 430.9L625.7 436.2L627.2 441.6L628.7 447.0L630.2 452.4L631.7 457.9L633.2 463.4L634.8 469.0L636.3 474.6L637.8 480.2L639.3 485.9L640.8 491.7L642.3 497.4L643.9 503.2L645.4 509.1L646.9 515.0L648.4 520.9L649.9 526.9L651.4 532.9L653.0 539.0L654.5 545.1L656.0 551.2" stroke="#3a22ff" stroke-opacity="0.7" stroke-width="1" fill="none"/>
<path d="M190.0 551.2L191.5 545.1L193.0 539.0L194.6 533.0L196.1 526.9L197.6 521.0L199.2 515.1L200.7 509.2L202.2 503.3L203.8 497.5L205.3 491.8L206.9 486.0L208.4 480.4L209.9 474.7L211.5 469.1L213.0 463.6L214.5 458.0L216.1 452.6L217.6 447.1L219.1 441.7L220.7 436.4L222.2 431.1L223.8 425.8L225.3 420.6L226.8 415.4L228.4 410.2L229.9 405.1L231.4 400.1L233.0 395.0L234.5 390.0L236.0 385.1L237.6 380.2L239.1 375.3L240.7 370.5L242.2 365.7L243.7 361.0L245.3 356.3L246.8 351.7L248.3 347.0L249.9 342.5L251.4 337.9L252.9 333.4L254.5 329.0L256.0 324.6L257.6 320.2L259.1 315.9L260.6 311.6L262.2 307.4L263.7 303.2L265.2 299.0L266.8 294.9L268.3 290.8L269.8 286.7L271.4 282.7L272.9 278.8L274.5 274.9L276.0 271.0L277.5 267.2L279.1 263.4L280.6 259.6L282.1 255.9L283.7 252.2L285.2 248.6L286.7 245.0L288.3 241.5L289.8 238.0L291.4 234.5L292.9 231.1L294.4 227.7L296.0 224.3L297.5 221.0L299.0 217.8L300.6 214.6L302.1 211.4L303.6 208.2L305.2 205.1L306.7 202.1L308.2 199.1L309.8 196.1L311.3 193.2L312.9 190.3L314.4 187.4L315.9 184.6L317.5 181.8L319.0 179.1L320.5 176.4L322.1 173.8L323.6 171.2L325.1 168.6L326.7 166.1L328.2 163.6L329.8 161.2L331.3 158.8L332.8 156.4L334.4 154.1L335.9 151.8L337.4 149.6L339.0 147.4L340.5 145.2L342.0 143.1L343.6 141.0L345.1 139.0L346.7 137.0L348.2 135.1L349.7 133.2L351.3 131.3L352.8 129.5L354.3 127.7L355.9 126.0L357.4 124.2L358.9 122.6L360.5 121.0L362.0 119.4L363.6 117.8L365.1 116.4L366.6 114.9L368.2 113.5L369.7 112.1L371.2 110.8L372.8 109.5L374.3 108.2L375.8 107.0L377.4 105.9L378.9 104.7L380.5 103.6L382.0 102.6L383.5 101.6L385.1 100.6L386.6 99.7L388.1 98.8L389.7 98.0L391.2 97.2L392.7 96.4L394.3 95.7L395.8 95.0L397.4 94.4L398.9 93.8L400.4 93.2L402.0 92.7L403.5 92.3L405.0 91.8L406.6 91.4L408.1 91.1L409.6 90.8L411.2 90.5L412.7 90.3L414.3 90.1L415.8 90.0L417.3 89.9L418.9 89.8L420.4 89.8L421.9 89.8L423.5 89.9L425.0 90.0L426.5 90.1L428.1 90.3L429.6 90.5L431.2 90.8L432.7 91.1L434.2 91.4L435.8 91.8L437.3 92.3L438.8 92.7L440.4 93.2L441.9 93.8L443.4 94.4L445.0 95.0L446.5 95.7L448.1 96.4L449.6 97.2L451.1 98.0L452.7 98.8L454.2 99.7L455.7 100.6L457.3 101.6L458.8 102.6L460.3 103.6L461.9 104.7L463.4 105.9L465.0 107.0L466.5 108.2L468.0 109.5L469.6 110.8L471.1 112.1L472.6 113.5L474.2 114.9L475.7 116.4L477.2 117.8L478.8 119.4L480.3 121.0L481.9 122.6L483.4 124.2L484.9 126.0L486.5 127.7L488.0 129.5L489.5 131.3L491.1 133.2L492.6 135.1L494.1 137.0L495.7 139.0L497.2 141.0L498.8 143.1L500.3 145.2L501.8 147.4L503.4 149.6L504.9 151.8L506.4 154.1L508.0 156.4L509.5 158.8L511.0 161.2L512.6 163.6L514.1 166.1L515.7 168.6L517.2 171.2L518.7 173.8L520.3 176.4L521.8 179.1L523.3 181.8L524.9 184.6L526.4 187.4L527.9 190.3L529.5 193.2L531.0 196.1L532.6 199.1L534.1 202.1L535.6 205.1L537.2 208.2L538.7 211.4L540.2 214.6L541.8 217.8L543.3 221.0L544.8 224.3L546.4 227.7L547.9 231.1L549.5 234.5L551.0 238.0L552.5 241.5L554.1 245.0L555.6 248.6L557.1 252.2L558.7 255.9L560.2 259.6L561.7 263.4L563.3 267.2L564.8 271.0L566.4 274.9L567.9 278.8L569.4 282.7L571.0 286.7L572.5 290.8L574.0 294.9L575.6 299.0L577.1 303.2L578.6 307.4L580.2 311.6L581.7 315.9L583.3 320.2L584.8 324.6L586.3 329.0L587.9 333.4L589.4 337.9L590.9 342.5L592.5 347.0L594.0 351.7L595.5 356.3L597.1 361.0L598.6 365.7L600.2 370.5L601.7 375.3L603.2 380.2L604.8 385.1L606.3 390.0L607.8 395.0L609.4 400.1L610.9 405.1L612.4 410.2L614.0 415.4L615.5 420.6L617.1 425.8L618.6 431.1L620.1 436.4L621.7 441.7L623.2 447.1L624.7 452.6L626.3 458.0L627.8 463.6L629.3 469.1L630.9 474.7L632.4 480.4L634.0 486.0L635.5 491.8L637.0 497.5L638.6 503.3L640.1 509.2L641.6 515.1L643.2 521.0L644.7 526.9L646.2 533.0L647.8 539.0L649.3 545.1L650.9 551.2" stroke="#0b5a0b" stroke-width="3" stroke-dasharray="2.9 3.3" fill="none"/>
<path d="M212.2 551.2L213.7 545.1L215.2 539.0L216.8 533.0L218.3 527.0L219.9 521.0L221.4 515.1L222.9 509.2L224.5 503.4L226.0 497.6L227.5 491.8L229.1 486.1L230.6 480.5L232.2 474.8L233.7 469.2L235.2 463.7L236.8 458.2L238.3 452.7L239.8 447.3L241.4 441.9L242.9 436.6L244.5 431.3L246.0 426.0L247.5 420.8L249.1 415.6L250.6 410.5L252.1 405.4L253.7 400.3L255.2 395.3L256.8 390.3L258.3 385.4L259.8 380.5L261.4 375.6L262.9 370.8L264.4 366.0L266.0 361.3L267.5 356.6L269.1 352.0L270.6 347.4L272.1 342.8L273.7 338.3L275.2 333.8L276.7 329.3L278.3 324.9L279.8 320.6L281.4 316.3L282.9 312.0L284.4 307.7L286.0 303.5L287.5 299.4L289.0 295.3L290.6 291.2L292.1 287.2L293.7 283.2L295.2 279.2L296.7 275.3L298.3 271.4L299.8 267.6L301.3 263.8L302.9 260.1L304.4 256.4L306.0 252.7L307.5 249.1L309.0 245.5L310.6 242.0L312.1 238.5L313.6 235.0L315.2 231.6L316.7 228.2L318.3 224.9L319.8 221.6L321.3 218.3L322.9 215.1L324.4 211.9L325.9 208.8L327.5 205.7L329.0 202.6L330.6 199.6L332.1 196.7L333.6 193.7L335.2 190.8L336.7 188.0L338.3 185.2L339.8 182.4L341.3 179.7L342.9 177.0L344.4 174.4L345.9 171.8L347.5 169.2L349.0 166.7L350.6 164.2L352.1 161.8L353.6 159.4L355.2 157.0L356.7 154.7L358.2 152.4L359.8 150.2L361.3 148.0L362.9 145.9L364.4 143.8L365.9 141.7L367.5 139.7L369.0 137.7L370.5 135.7L372.1 133.8L373.6 132.0L375.2 130.2L376.7 128.4L378.2 126.6L379.8 124.9L381.3 123.3L382.8 121.7L384.4 120.1L385.9 118.5L387.5 117.0L389.0 115.6L390.5 114.2L392.1 112.8L393.6 111.5L395.1 110.2L396.7 108.9L398.2 107.7L399.8 106.6L401.3 105.4L402.8 104.3L404.4 103.3L405.9 102.3L407.4 101.3L409.0 100.4L410.5 99.5L412.1 98.7L413.6 97.9L415.1 97.1L416.7 96.4L418.2 95.7L419.7 95.1L421.3 94.5L422.8 94.0L424.4 93.5L425.9 93.0L427.4 92.6L429.0 92.2L430.5 91.8L432.0 91.5L433.6 91.2L435.1 91.0L436.7 90.8L438.2 90.7L439.7 90.6L441.3 90.5L442.8 90.5L444.3 90.5L445.9 90.6L447.4 90.7L449.0 90.8L450.5 91.0L452.0 91.2L453.6 91.5L455.1 91.8L456.6 92.2L458.2 92.6L459.7 93.0L461.3 93.5L462.8 94.0L464.3 94.5L465.9 95.1L467.4 95.7L468.9 96.4L470.5 97.1L472.0 97.9L473.6 98.7L475.1 99.5L476.6 100.4L478.2 101.3L479.7 102.3L481.2 103.3L482.8 104.3L484.3 105.4L485.9 106.6L487.4 107.7L488.9 108.9L490.5 110.2L492.0 111.5L493.5 112.8L495.1 114.2L496.6 115.6L498.2 117.0L499.7 118.5L501.2 120.1L502.8 121.7L504.3 123.3L505.8 124.9L507.4 126.6L508.9 128.4L510.5 130.2L512.0 132.0L513.5 133.8L515.1 135.7L516.6 137.7L518.1 139.7L519.7 141.7L521.2 143.8L522.8 145.9L524.3 148.0L525.8 150.2L527.4 152.4L528.9 154.7L530.4 157.0L532.0 159.4L533.5 161.8L535.1 164.2L536.6 166.7L538.1 169.2L539.7 171.8L541.2 174.4L542.8 177.0L544.3 179.7L545.8 182.4L547.4 185.2L548.9 188.0L550.4 190.8L552.0 193.7L553.5 196.7L555.1 199.6L556.6 202.6L558.1 205.7L559.7 208.8L561.2 211.9L562.7 215.1L564.3 218.3L565.8 221.6L567.4 224.9L568.9 228.2L570.4 231.6L572.0 235.0L573.5 238.5L575.0 242.0L576.6 245.5L578.1 249.1L579.7 252.7L581.2 256.4L582.7 260.1L584.3 263.8L585.8 267.6L587.3 271.4L588.9 275.3L590.4 279.2L592.0 283.2L593.5 287.2L595.0 291.2L596.6 295.3L598.1 299.4L599.6 303.5L601.2 307.7L602.7 312.0L604.3 316.3L605.8 320.6L607.3 324.9L608.9 329.3L610.4 333.8L611.9 338.3L613.5 342.8L615.0 347.4L616.6 352.0L618.1 356.6L619.6 361.3L621.2 366.0L622.7 370.8L624.2 375.6L625.8 380.5L627.3 385.4L628.9 390.3L630.4 395.3L631.9 400.3L633.5 405.4L635.0 410.5L636.5 415.6L638.1 420.8L639.6 426.0L641.2 431.3L642.7 436.6L644.2 441.9L645.8 447.3L647.3 452.7L648.8 458.2L650.4 463.7L651.9 469.2L653.5 474.8L655.0 480.5L656.5 486.1L658.1 491.8L659.6 497.6L661.1 503.4L662.7 509.2L664.2 515.1L665.8 521.0L667.3 527.0L668.8 533.0L670.4 539.0L671.9 545.1L673.4 551.2" stroke="#fff" stroke-width="3.7" stroke-dasharray="0.01 6.4" stroke-linecap="round" fill="none"/>
<g stroke="#000" fill="none">
<path d="M78.8 35 V552.9" stroke-width="3"/>
<path d="M77.2 551.4 H775.2" stroke-width="3.1"/>
<path d="M70 510.2 H78" stroke-width="2.2"/>
<path d="M70 373.9 H78" stroke-width="2.2"/>
<path d="M70 237.6 H78" stroke-width="2.2"/>
<path d="M70 101.3 H78" stroke-width="2.2"/>
<path d="M74 551.2 H78" stroke-width="1.8"/>
<path d="M74 540.4 H78" stroke-width="1.8"/>
<path d="M74 531.3 H78" stroke-width="1.8"/>
<path d="M74 523.4 H78" stroke-width="1.8"/>
<path d="M74 516.4 H78" stroke-width="1.8"/>
<path d="M74 469.2 H78" stroke-width="1.8"/>
<path d="M74 445.2 H78" stroke-width="1.8"/>
<path d="M74 428.1 H78" stroke-width="1.8"/>
<path d="M74 414.9 H78" stroke-width="1.8"/>
<path d="M74 404.1 H78" stroke-width="1.8"/>
<path d="M74 395.0 H78" stroke-width="1.8"/>
<path d="M74 387.1 H78" stroke-width="1.8"/>
<path d="M74 380.1 H78" stroke-width="1.8"/>
<path d="M74 332.9 H78" stroke-width="1.8"/>
<path d="M74 308.9 H78" stroke-width="1.8"/>
<path d="M74 291.8 H78" stroke-width="1.8"/>
<path d="M74 278.6 H78" stroke-width="1.8"/>
<path d="M74 267.8 H78" stroke-width="1.8"/>
<path d="M74 258.7 H78" stroke-width="1.8"/>
<path d="M74 250.8 H78" stroke-width="1.8"/>
<path d="M74 243.8 H78" stroke-width="1.8"/>
<path d="M74 196.6 H78" stroke-width="1.8"/>
<path d="M74 172.6 H78" stroke-width="1.8"/>
<path d="M74 155.5 H78" stroke-width="1.8"/>
<path d="M74 142.3 H78" stroke-width="1.8"/>
<path d="M74 131.5 H78" stroke-width="1.8"/>
<path d="M74 122.4 H78" stroke-width="1.8"/>
<path d="M74 114.5 H78" stroke-width="1.8"/>
<path d="M74 107.5 H78" stroke-width="1.8"/>
<path d="M74 60.3 H78" stroke-width="1.8"/>
<path d="M74 36.3 H78" stroke-width="1.8"/>
<path d="M152.1 551 V559.6" stroke-width="2.4"/>
<path d="M290.4 551 V559.6" stroke-width="2.4"/>
<path d="M428.7 551 V559.6" stroke-width="2.4"/>
<path d="M567.0 551 V559.6" stroke-width="2.4"/>
<path d="M705.3 551 V559.6" stroke-width="2.4"/>
</g>
<g font-family="'Liberation Sans',Arial,sans-serif" font-weight="bold" fill="#000">
<text x="67.5" y="520.1" font-size="30.5" text-anchor="end">1</text>
<text x="67.5" y="383.8" font-size="30.5" text-anchor="end">10</text>
<text x="67.5" y="247.5" font-size="30.5" text-anchor="end">100</text>
<text x="67.5" y="111.2" font-size="30.5" text-anchor="end">1000</text>
<text transform="translate(146.7 585.6) scale(0.94 1)" font-size="32" text-anchor="middle">-10</text>
<text transform="translate(285.0 585.6) scale(0.94 1)" font-size="32" text-anchor="middle">-5</text>
<text transform="translate(428.3 585.6) scale(0.94 1)" font-size="32" text-anchor="middle">0</text>
<text transform="translate(566.6 585.6) scale(0.94 1)" font-size="32" text-anchor="middle">5</text>
<text transform="translate(704.9 585.6) scale(0.94 1)" font-size="32" text-anchor="middle">10</text>
<text x="328.8" y="621.6" font-size="35.2">Amplitude <tspan font-style="italic">m</tspan> <tspan font-family="'Liberation Serif',serif">(</tspan>V<tspan font-family="'Liberation Serif',serif">)</tspan></text>
<text transform="translate(24.4 348.2) rotate(-90) scale(1 1.13)" font-size="30.2">Count</text>
<text x="720.4" y="609.2" font-size="31">x 10<tspan font-size="20" dy="-9.8" dx="0.6">-3</tspan></text>
</g>
<rect x="624.9" y="3" width="152.8" height="142" fill="#fff" stroke="#1c1c1c" stroke-width="2.1"/>
<rect x="651.5" y="22.8" width="12.2" height="12.4" fill="#000"/>
<circle cx="657.2" cy="59" r="7.8" fill="#d01a1a"/>
<path d="M648.6 94.4L666.4 94.4L657.5 79.8Z" fill="#66ff14"/>
<path d="M648.6 114.4L666.4 114.4L657.5 129Z" fill="#2a00ff"/>
<g font-family="'Liberation Sans',Arial,sans-serif" font-size="31.2" fill="#000" stroke="#fff" stroke-width="0.2">
<text transform="translate(696.8 40.0) scale(1.08 1)" letter-spacing="-4.3">0</text>
<text x="711.3000000000001" y="35.2" font-size="27" stroke-width="0.3">°</text>
<text transform="translate(696.8 69.3) scale(1.08 1)" letter-spacing="-4.3">90</text>
<text x="725.8000000000001" y="64.5" font-size="27" stroke-width="0.3">°</text>
<text transform="translate(696.4 99.3) scale(1.08 1)" letter-spacing="-4.3">180</text>
<text x="739.1" y="94.5" font-size="27" stroke-width="0.3">°</text>
<text transform="translate(697.4 129.7) scale(1.08 1)" letter-spacing="-4.3">270</text>
<text x="739.1" y="124.89999999999999" font-size="27" stroke-width="0.3">°</text>
</g>
</svg>
</body></html>
